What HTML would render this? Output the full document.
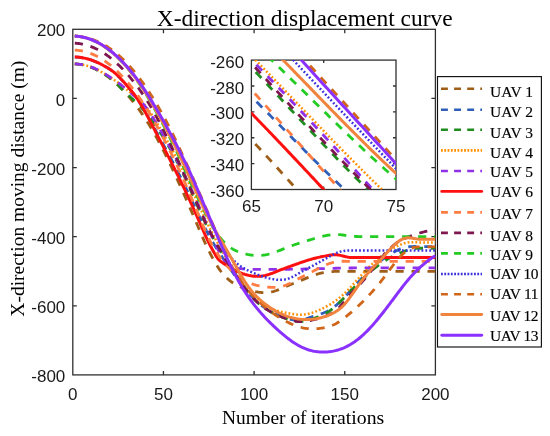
<!DOCTYPE html>
<html><head><meta charset="utf-8"><title>X-direction displacement curve</title>
<style>html,body{margin:0;padding:0;background:#fff}svg{display:block}text{fill:#000}.tk{font-family:"Liberation Sans",sans-serif;font-size:17px;fill:#1a1a1a}.lb{font-family:"Liberation Serif",serif;font-size:19.4px}.lg{font-family:"Liberation Serif",serif;font-size:15.5px;stroke:#000;stroke-width:.15px}.tt{font-family:"Liberation Serif",serif;font-size:23.3px}</style></head><body>
<svg width="550" height="436" viewBox="0 0 550 436">
<rect x="0" y="0" width="550" height="436" fill="#fff"/>
<defs>
<clipPath id="cm"><rect x="72.8" y="29.3" width="362.59999999999997" height="345.59999999999997"/></clipPath>
<clipPath id="ci"><rect x="251.4" y="60.1" width="144.6" height="129.4"/></clipPath>
</defs>
<rect x="72.8" y="29.3" width="362.59999999999997" height="345.59999999999997" fill="none" stroke="#303030" stroke-width="1.3"/>
<path d="M163.45 374.9 v-4.0 M163.45 29.3 v4.0" stroke="#303030" stroke-width="1.3"/>
<path d="M254.10 374.9 v-4.0 M254.10 29.3 v4.0" stroke="#303030" stroke-width="1.3"/>
<path d="M344.75 374.9 v-4.0 M344.75 29.3 v4.0" stroke="#303030" stroke-width="1.3"/>
<path d="M72.8 98.42 h4.0 M435.4 98.42 h-4.0" stroke="#303030" stroke-width="1.3"/>
<path d="M72.8 167.54 h4.0 M435.4 167.54 h-4.0" stroke="#303030" stroke-width="1.3"/>
<path d="M72.8 236.66 h4.0 M435.4 236.66 h-4.0" stroke="#303030" stroke-width="1.3"/>
<path d="M72.8 305.78 h4.0 M435.4 305.78 h-4.0" stroke="#303030" stroke-width="1.3"/>
<g clip-path="url(#cm)">
<path d="M74.81 63.89 L76.02 63.96 L77.23 64.05 L78.43 64.18 L79.64 64.33 L80.85 64.51 L82.05 64.73 L83.26 64.97 L84.47 65.25 L85.67 65.55 L86.88 65.89 L88.09 66.26 L89.29 66.65 L90.50 67.08 L91.71 67.54 L92.91 68.03 L94.12 68.55 L95.33 69.10 L96.53 69.68 L97.74 70.29 L98.95 70.93 L100.15 71.60 L101.36 72.30 L102.57 73.04 L103.77 73.80 L104.98 74.60 L106.19 75.42 L107.39 76.28 L108.60 77.16 L109.81 78.08 L111.01 79.03 L112.22 80.00 L113.43 81.01 L114.63 82.05 L115.84 83.12 L117.05 84.22 L118.25 85.35 L119.46 86.51 L120.67 87.70 L121.87 88.92 L123.08 90.17 L124.29 91.46 L125.49 92.77 L126.70 94.12 L127.91 95.49 L129.11 96.90 L130.32 98.34 L131.53 99.81 L132.73 101.30 L133.94 102.83 L135.15 104.39 L136.35 105.97 L137.56 107.59 L138.77 109.23 L139.97 110.90 L141.18 112.61 L142.39 114.34 L143.59 116.11 L144.80 117.92 L146.01 119.76 L147.21 121.64 L148.42 123.56 L149.63 125.52 L150.83 127.52 L152.04 129.56 L153.24 131.63 L154.45 133.75 L155.66 135.90 L156.86 138.09 L158.07 140.31 L159.28 142.57 L160.48 144.86 L161.69 147.18 L162.90 149.53 L164.10 151.91 L165.31 154.32 L166.52 156.76 L167.72 159.22 L168.93 161.70 L170.14 164.21 L171.34 166.74 L172.55 169.30 L173.76 171.87 L174.96 174.46 L176.17 177.07 L177.38 179.70 L178.58 182.34 L179.79 185.00 L181.00 187.67 L182.20 190.35 L183.41 193.05 L184.62 195.75 L185.82 198.46 L187.03 201.18 L188.24 203.91 L189.44 206.65 L190.65 209.40 L191.86 212.16 L193.06 214.94 L194.27 217.75 L195.48 220.58 L196.68 223.43 L197.89 226.31 L199.10 229.19 L200.30 232.05 L201.51 234.88 L202.72 237.65 L203.92 240.36 L205.13 243.00 L206.34 245.58 L207.54 248.09 L208.75 250.54 L209.96 252.94 L211.16 255.29 L212.37 257.57 L213.58 259.80 L214.78 261.94 L215.99 264.00 L217.20 265.97 L218.40 267.84 L219.61 269.60 L220.82 271.25 L222.02 272.80 L223.23 274.25 L224.44 275.60 L225.64 276.86 L226.85 278.03 L228.06 279.13 L229.26 280.15 L230.47 281.11 L231.68 282.00 L232.88 282.83 L234.09 283.60 L235.30 284.33 L236.50 285.01 L237.71 285.64 L238.92 286.24 L240.12 286.81 L241.33 287.34 L242.54 287.85 L243.74 288.33 L244.95 288.78 L246.16 289.21 L247.36 289.62 L248.57 289.99 L249.78 290.35 L250.98 290.68 L252.19 290.98 L253.40 291.26 L254.60 291.52 L255.81 291.75 L257.02 291.95 L258.22 292.13 L259.43 292.29 L260.64 292.41 L261.84 292.50 L263.05 292.56 L264.26 292.59 L265.46 292.58 L266.67 292.52 L267.88 292.43 L269.08 292.29 L270.29 292.11 L271.50 291.88 L272.70 291.60 L273.91 291.28 L275.12 290.92 L276.32 290.52 L277.53 290.08 L278.74 289.62 L279.94 289.13 L281.15 288.62 L282.36 288.10 L283.56 287.57 L284.77 287.04 L285.98 286.50 L287.18 285.97 L288.39 285.44 L289.60 284.93 L290.80 284.42 L292.01 283.93 L293.22 283.44 L294.42 282.96 L295.63 282.49 L296.84 282.01 L298.04 281.54 L299.25 281.07 L300.46 280.59 L301.66 280.11 L302.87 279.63 L304.08 279.14 L305.28 278.65 L306.49 278.15 L307.70 277.66 L308.90 277.17 L310.11 276.69 L311.32 276.21 L312.52 275.76 L313.73 275.31 L314.94 274.89 L316.14 274.49 L317.35 274.12 L318.56 273.77 L319.76 273.45 L320.97 273.16 L322.18 272.89 L323.38 272.65 L324.59 272.43 L325.80 272.24 L327.00 272.07 L328.21 271.92 L329.42 271.80 L330.62 271.69 L331.83 271.60 L333.04 271.53 L334.24 271.47 L335.45 271.43 L336.66 271.40 L337.86 271.38 L339.07 271.36 L340.28 271.36 L341.48 271.35 L342.69 271.35 L343.89 271.36 L345.10 271.36 L346.31 271.36 L347.51 271.36 L348.72 271.36 L349.93 271.36 L351.13 271.36 L352.34 271.36 L353.55 271.36 L354.75 271.36 L355.96 271.36 L357.17 271.36 L358.37 271.36 L359.58 271.36 L360.79 271.36 L361.99 271.36 L363.20 271.36 L364.41 271.36 L365.61 271.36 L366.82 271.36 L368.03 271.36 L369.23 271.36 L370.44 271.36 L371.65 271.36 L372.85 271.36 L374.06 271.36 L375.27 271.36 L376.47 271.36 L377.68 271.36 L378.89 271.36 L380.09 271.36 L381.30 271.36 L382.51 271.36 L383.71 271.36 L384.92 271.36 L386.13 271.36 L387.33 271.36 L388.54 271.36 L389.75 271.36 L390.95 271.36 L392.16 271.36 L393.37 271.36 L394.57 271.36 L395.78 271.36 L396.99 271.36 L398.19 271.36 L399.40 271.36 L400.61 271.36 L401.81 271.36 L403.02 271.36 L404.23 271.36 L405.43 271.36 L406.64 271.36 L407.85 271.36 L409.05 271.36 L410.26 271.36 L411.47 271.36 L412.67 271.36 L413.88 271.36 L415.09 271.36 L416.29 271.36 L417.50 271.36 L418.71 271.36 L419.91 271.36 L421.12 271.36 L422.33 271.36 L423.53 271.36 L424.74 271.36 L425.95 271.36 L427.15 271.36 L428.36 271.36 L429.57 271.36 L430.77 271.36 L431.98 271.36 L433.19 271.36 L434.39 271.36 L435.60 271.36" stroke="#9E5E18" stroke-width="2.8" fill="none" stroke-linejoin="round" stroke-dasharray="8.2 7.8"/>
<path d="M74.81 56.99 L76.02 57.05 L77.23 57.13 L78.43 57.24 L79.64 57.38 L80.85 57.54 L82.05 57.73 L83.26 57.94 L84.47 58.18 L85.67 58.45 L86.88 58.74 L88.09 59.06 L89.29 59.41 L90.50 59.79 L91.71 60.19 L92.91 60.63 L94.12 61.09 L95.33 61.58 L96.53 62.10 L97.74 62.65 L98.95 63.22 L100.15 63.82 L101.36 64.43 L102.57 65.07 L103.77 65.72 L104.98 66.39 L106.19 67.08 L107.39 67.79 L108.60 68.53 L109.81 69.31 L111.01 70.12 L112.22 70.98 L113.43 71.91 L114.63 72.89 L115.84 73.95 L117.05 75.08 L118.25 76.27 L119.46 77.52 L120.67 78.83 L121.87 80.17 L123.08 81.54 L124.29 82.92 L125.49 84.31 L126.70 85.71 L127.91 87.11 L129.11 88.53 L130.32 89.96 L131.53 91.42 L132.73 92.92 L133.94 94.46 L135.15 96.05 L136.35 97.70 L137.56 99.42 L138.77 101.20 L139.97 103.04 L141.18 104.94 L142.39 106.90 L143.59 108.91 L144.80 110.96 L146.01 113.05 L147.21 115.17 L148.42 117.32 L149.63 119.48 L150.83 121.67 L152.04 123.86 L153.24 126.06 L154.45 128.26 L155.66 130.46 L156.86 132.67 L158.07 134.87 L159.28 137.08 L160.48 139.28 L161.69 141.49 L162.90 143.71 L164.10 145.93 L165.31 148.15 L166.52 150.38 L167.72 152.62 L168.93 154.87 L170.14 157.13 L171.34 159.39 L172.55 161.67 L173.76 163.97 L174.96 166.27 L176.17 168.59 L177.38 170.93 L178.58 173.28 L179.79 175.65 L181.00 178.04 L182.20 180.44 L183.41 182.87 L184.62 185.32 L185.82 187.79 L187.03 190.28 L188.24 192.80 L189.44 195.34 L190.65 197.90 L191.86 200.48 L193.06 203.08 L194.27 205.68 L195.48 208.29 L196.68 210.89 L197.89 213.47 L199.10 216.03 L200.30 218.56 L201.51 221.05 L202.72 223.50 L203.92 225.90 L205.13 228.26 L206.34 230.56 L207.54 232.81 L208.75 235.02 L209.96 237.18 L211.16 239.31 L212.37 241.39 L213.58 243.43 L214.78 245.44 L215.99 247.41 L217.20 249.35 L218.40 251.27 L219.61 253.16 L220.82 255.02 L222.02 256.87 L223.23 258.69 L224.44 260.49 L225.64 262.28 L226.85 264.06 L228.06 265.82 L229.26 267.57 L230.47 269.31 L231.68 271.03 L232.88 272.74 L234.09 274.43 L235.30 276.10 L236.50 277.76 L237.71 279.39 L238.92 281.00 L240.12 282.59 L241.33 284.15 L242.54 285.68 L243.74 287.19 L244.95 288.67 L246.16 290.12 L247.36 291.54 L248.57 292.92 L249.78 294.27 L250.98 295.58 L252.19 296.86 L253.40 298.09 L254.60 299.29 L255.81 300.44 L257.02 301.56 L258.22 302.63 L259.43 303.67 L260.64 304.66 L261.84 305.61 L263.05 306.52 L264.26 307.39 L265.46 308.23 L266.67 309.02 L267.88 309.78 L269.08 310.50 L270.29 311.19 L271.50 311.85 L272.70 312.48 L273.91 313.07 L275.12 313.65 L276.32 314.19 L277.53 314.72 L278.74 315.22 L279.94 315.71 L281.15 316.18 L282.36 316.64 L283.56 317.08 L284.77 317.51 L285.98 317.93 L287.18 318.32 L288.39 318.69 L289.60 319.03 L290.80 319.34 L292.01 319.61 L293.22 319.84 L294.42 320.02 L295.63 320.14 L296.84 320.21 L298.04 320.21 L299.25 320.15 L300.46 320.03 L301.66 319.85 L302.87 319.61 L304.08 319.32 L305.28 319.00 L306.49 318.64 L307.70 318.25 L308.90 317.85 L310.11 317.44 L311.32 317.03 L312.52 316.62 L313.73 316.23 L314.94 315.84 L316.14 315.46 L317.35 315.08 L318.56 314.70 L319.76 314.31 L320.97 313.91 L322.18 313.49 L323.38 313.05 L324.59 312.56 L325.80 312.04 L327.00 311.47 L328.21 310.85 L329.42 310.17 L330.62 309.43 L331.83 308.63 L333.04 307.77 L334.24 306.86 L335.45 305.88 L336.66 304.86 L337.86 303.79 L339.07 302.67 L340.28 301.52 L341.48 300.33 L342.69 299.10 L343.89 297.85 L345.10 296.58 L346.31 295.28 L347.51 293.97 L348.72 292.64 L349.93 291.30 L351.13 289.96 L352.34 288.62 L353.55 287.28 L354.75 285.94 L355.96 284.60 L357.17 283.27 L358.37 281.95 L359.58 280.64 L360.79 279.34 L361.99 278.06 L363.20 276.78 L364.41 275.53 L365.61 274.29 L366.82 273.07 L368.03 271.88 L369.23 270.70 L370.44 269.55 L371.65 268.42 L372.85 267.32 L374.06 266.25 L375.27 265.20 L376.47 264.17 L377.68 263.18 L378.89 262.20 L380.09 261.26 L381.30 260.33 L382.51 259.43 L383.71 258.56 L384.92 257.70 L386.13 256.87 L387.33 256.06 L388.54 255.27 L389.75 254.50 L390.95 253.76 L392.16 253.03 L393.37 252.34 L394.57 251.67 L395.78 251.03 L396.99 250.43 L398.19 249.86 L399.40 249.33 L400.61 248.85 L401.81 248.41 L403.02 248.01 L404.23 247.67 L405.43 247.37 L406.64 247.11 L407.85 246.91 L409.05 246.75 L410.26 246.64 L411.47 246.57 L412.67 246.53 L413.88 246.51 L415.09 246.51 L416.29 246.52 L417.50 246.53 L418.71 246.54 L419.91 246.54 L421.12 246.54 L422.33 246.54 L423.53 246.54 L424.74 246.53 L425.95 246.53 L427.15 246.53 L428.36 246.53 L429.57 246.53 L430.77 246.53 L431.98 246.53 L433.19 246.54 L434.39 246.54 L435.60 246.53" stroke="#2F5FBA" stroke-width="2.8" fill="none" stroke-linejoin="round" stroke-dasharray="8.2 7.8"/>
<path d="M74.81 63.89 L76.02 63.96 L77.23 64.06 L78.43 64.18 L79.64 64.33 L80.85 64.52 L82.05 64.73 L83.26 64.97 L84.47 65.24 L85.67 65.55 L86.88 65.88 L88.09 66.24 L89.29 66.63 L90.50 67.06 L91.71 67.51 L92.91 68.00 L94.12 68.52 L95.33 69.06 L96.53 69.64 L97.74 70.25 L98.95 70.89 L100.15 71.56 L101.36 72.25 L102.57 72.97 L103.77 73.72 L104.98 74.49 L106.19 75.29 L107.39 76.12 L108.60 76.97 L109.81 77.86 L111.01 78.79 L112.22 79.76 L113.43 80.77 L114.63 81.83 L115.84 82.93 L117.05 84.08 L118.25 85.27 L119.46 86.49 L120.67 87.73 L121.87 88.97 L123.08 90.21 L124.29 91.42 L125.49 92.60 L126.70 93.75 L127.91 94.86 L129.11 95.93 L130.32 96.99 L131.53 98.04 L132.73 99.11 L133.94 100.20 L135.15 101.31 L136.35 102.46 L137.56 103.65 L138.77 104.87 L139.97 106.12 L141.18 107.41 L142.39 108.74 L143.59 110.10 L144.80 111.50 L146.01 112.93 L147.21 114.40 L148.42 115.90 L149.63 117.44 L150.83 119.01 L152.04 120.62 L153.24 122.26 L154.45 123.94 L155.66 125.65 L156.86 127.40 L158.07 129.18 L159.28 131.00 L160.48 132.85 L161.69 134.73 L162.90 136.65 L164.10 138.61 L165.31 140.59 L166.52 142.62 L167.72 144.67 L168.93 146.77 L170.14 148.89 L171.34 151.05 L172.55 153.24 L173.76 155.47 L174.96 157.73 L176.17 160.02 L177.38 162.35 L178.58 164.71 L179.79 167.10 L181.00 169.53 L182.20 171.99 L183.41 174.49 L184.62 177.02 L185.82 179.58 L187.03 182.17 L188.24 184.80 L189.44 187.45 L190.65 190.14 L191.86 192.85 L193.06 195.59 L194.27 198.34 L195.48 201.09 L196.68 203.85 L197.89 206.60 L199.10 209.33 L200.30 212.04 L201.51 214.72 L202.72 217.35 L203.92 219.94 L205.13 222.48 L206.34 224.96 L207.54 227.39 L208.75 229.75 L209.96 232.06 L211.16 234.32 L212.37 236.53 L213.58 238.70 L214.78 240.82 L215.99 242.90 L217.20 244.96 L218.40 246.98 L219.61 248.97 L220.82 250.95 L222.02 252.90 L223.23 254.84 L224.44 256.77 L225.64 258.69 L226.85 260.61 L228.06 262.52 L229.26 264.42 L230.47 266.32 L231.68 268.22 L232.88 270.11 L234.09 271.98 L235.30 273.84 L236.50 275.68 L237.71 277.51 L238.92 279.31 L240.12 281.09 L241.33 282.84 L242.54 284.56 L243.74 286.25 L244.95 287.90 L246.16 289.52 L247.36 291.09 L248.57 292.62 L249.78 294.11 L250.98 295.55 L252.19 296.93 L253.40 298.26 L254.60 299.54 L255.81 300.76 L257.02 301.92 L258.22 303.03 L259.43 304.08 L260.64 305.08 L261.84 306.04 L263.05 306.94 L264.26 307.80 L265.46 308.62 L266.67 309.40 L267.88 310.14 L269.08 310.85 L270.29 311.53 L271.50 312.18 L272.70 312.81 L273.91 313.41 L275.12 313.99 L276.32 314.55 L277.53 315.09 L278.74 315.62 L279.94 316.13 L281.15 316.63 L282.36 317.12 L283.56 317.60 L284.77 318.07 L285.98 318.53 L287.18 318.97 L288.39 319.39 L289.60 319.79 L290.80 320.17 L292.01 320.50 L293.22 320.80 L294.42 321.05 L295.63 321.26 L296.84 321.41 L298.04 321.50 L299.25 321.54 L300.46 321.52 L301.66 321.43 L302.87 321.30 L304.08 321.11 L305.28 320.87 L306.49 320.60 L307.70 320.30 L308.90 319.96 L310.11 319.61 L311.32 319.24 L312.52 318.85 L313.73 318.45 L314.94 318.04 L316.14 317.62 L317.35 317.18 L318.56 316.72 L319.76 316.24 L320.97 315.73 L322.18 315.19 L323.38 314.61 L324.59 314.00 L325.80 313.34 L327.00 312.64 L328.21 311.89 L329.42 311.09 L330.62 310.23 L331.83 309.32 L333.04 308.37 L334.24 307.37 L335.45 306.32 L336.66 305.23 L337.86 304.10 L339.07 302.95 L340.28 301.76 L341.48 300.55 L342.69 299.32 L343.89 298.07 L345.10 296.81 L346.31 295.54 L347.51 294.26 L348.72 292.98 L349.93 291.71 L351.13 290.44 L352.34 289.17 L353.55 287.92 L354.75 286.68 L355.96 285.46 L357.17 284.24 L358.37 283.04 L359.58 281.86 L360.79 280.69 L361.99 279.53 L363.20 278.39 L364.41 277.26 L365.61 276.15 L366.82 275.05 L368.03 273.96 L369.23 272.89 L370.44 271.83 L371.65 270.79 L372.85 269.76 L374.06 268.75 L375.27 267.76 L376.47 266.79 L377.68 265.84 L378.89 264.92 L380.09 264.02 L381.30 263.14 L382.51 262.30 L383.71 261.48 L384.92 260.70 L386.13 259.95 L387.33 259.23 L388.54 258.54 L389.75 257.88 L390.95 257.24 L392.16 256.63 L393.37 256.04 L394.57 255.47 L395.78 254.91 L396.99 254.37 L398.19 253.84 L399.40 253.32 L400.61 252.81 L401.81 252.31 L403.02 251.82 L404.23 251.35 L405.43 250.90 L406.64 250.48 L407.85 250.08 L409.05 249.71 L410.26 249.38 L411.47 249.09 L412.67 248.85 L413.88 248.65 L415.09 248.49 L416.29 248.38 L417.50 248.31 L418.71 248.27 L419.91 248.25 L421.12 248.24 L422.33 248.25 L423.53 248.25 L424.74 248.26 L425.95 248.26 L427.15 248.26 L428.36 248.26 L429.57 248.26 L430.77 248.26 L431.98 248.26 L433.19 248.26 L434.39 248.26 L435.60 248.26" stroke="#1E8C1E" stroke-width="2.8" fill="none" stroke-linejoin="round" stroke-dasharray="8.2 7.8"/>
<path d="M74.81 63.89 L76.02 63.95 L77.23 64.04 L78.43 64.15 L79.64 64.29 L80.85 64.46 L82.05 64.65 L83.26 64.87 L84.47 65.12 L85.67 65.39 L86.88 65.69 L88.09 66.02 L89.29 66.38 L90.50 66.77 L91.71 67.20 L92.91 67.66 L94.12 68.16 L95.33 68.69 L96.53 69.26 L97.74 69.87 L98.95 70.50 L100.15 71.16 L101.36 71.84 L102.57 72.55 L103.77 73.27 L104.98 74.01 L106.19 74.76 L107.39 75.53 L108.60 76.30 L109.81 77.09 L111.01 77.88 L112.22 78.69 L113.43 79.50 L114.63 80.31 L115.84 81.14 L117.05 81.98 L118.25 82.84 L119.46 83.71 L120.67 84.60 L121.87 85.52 L123.08 86.47 L124.29 87.43 L125.49 88.42 L126.70 89.41 L127.91 90.42 L129.11 91.41 L130.32 92.41 L131.53 93.39 L132.73 94.35 L133.94 95.30 L135.15 96.25 L136.35 97.20 L137.56 98.17 L138.77 99.17 L139.97 100.22 L141.18 101.33 L142.39 102.52 L143.59 103.80 L144.80 105.18 L146.01 106.65 L147.21 108.22 L148.42 109.88 L149.63 111.61 L150.83 113.40 L152.04 115.25 L153.24 117.13 L154.45 119.05 L155.66 121.00 L156.86 122.97 L158.07 124.95 L159.28 126.96 L160.48 128.99 L161.69 131.04 L162.90 133.11 L164.10 135.20 L165.31 137.32 L166.52 139.45 L167.72 141.61 L168.93 143.78 L170.14 145.98 L171.34 148.21 L172.55 150.45 L173.76 152.72 L174.96 155.01 L176.17 157.33 L177.38 159.67 L178.58 162.03 L179.79 164.42 L181.00 166.83 L182.20 169.27 L183.41 171.73 L184.62 174.22 L185.82 176.73 L187.03 179.27 L188.24 181.83 L189.44 184.42 L190.65 187.04 L191.86 189.67 L193.06 192.33 L194.27 194.99 L195.48 197.67 L196.68 200.35 L197.89 203.03 L199.10 205.70 L200.30 208.36 L201.51 211.00 L202.72 213.61 L203.92 216.20 L205.13 218.76 L206.34 221.28 L207.54 223.76 L208.75 226.20 L209.96 228.60 L211.16 230.96 L212.37 233.28 L213.58 235.56 L214.78 237.81 L215.99 240.03 L217.20 242.21 L218.40 244.37 L219.61 246.50 L220.82 248.60 L222.02 250.68 L223.23 252.75 L224.44 254.79 L225.64 256.82 L226.85 258.84 L228.06 260.83 L229.26 262.82 L230.47 264.79 L231.68 266.74 L232.88 268.67 L234.09 270.57 L235.30 272.46 L236.50 274.32 L237.71 276.15 L238.92 277.94 L240.12 279.71 L241.33 281.44 L242.54 283.13 L243.74 284.78 L244.95 286.39 L246.16 287.95 L247.36 289.47 L248.57 290.94 L249.78 292.37 L250.98 293.74 L252.19 295.06 L253.40 296.33 L254.60 297.55 L255.81 298.71 L257.02 299.82 L258.22 300.88 L259.43 301.87 L260.64 302.81 L261.84 303.69 L263.05 304.51 L264.26 305.28 L265.46 305.99 L266.67 306.65 L267.88 307.26 L269.08 307.83 L270.29 308.35 L271.50 308.83 L272.70 309.28 L273.91 309.70 L275.12 310.08 L276.32 310.44 L277.53 310.78 L278.74 311.09 L279.94 311.39 L281.15 311.67 L282.36 311.94 L283.56 312.21 L284.77 312.47 L285.98 312.72 L287.18 312.97 L288.39 313.21 L289.60 313.45 L290.80 313.68 L292.01 313.89 L293.22 314.09 L294.42 314.27 L295.63 314.42 L296.84 314.54 L298.04 314.63 L299.25 314.69 L300.46 314.71 L301.66 314.69 L302.87 314.62 L304.08 314.52 L305.28 314.37 L306.49 314.18 L307.70 313.96 L308.90 313.69 L310.11 313.39 L311.32 313.05 L312.52 312.68 L313.73 312.28 L314.94 311.84 L316.14 311.38 L317.35 310.90 L318.56 310.38 L319.76 309.85 L320.97 309.29 L322.18 308.71 L323.38 308.11 L324.59 307.49 L325.80 306.85 L327.00 306.19 L328.21 305.51 L329.42 304.80 L330.62 304.07 L331.83 303.31 L333.04 302.52 L334.24 301.71 L335.45 300.86 L336.66 299.99 L337.86 299.08 L339.07 298.13 L340.28 297.15 L341.48 296.13 L342.69 295.07 L343.89 293.97 L345.10 292.84 L346.31 291.66 L347.51 290.45 L348.72 289.21 L349.93 287.93 L351.13 286.64 L352.34 285.32 L353.55 283.98 L354.75 282.63 L355.96 281.28 L357.17 279.91 L358.37 278.55 L359.58 277.20 L360.79 275.85 L361.99 274.52 L363.20 273.20 L364.41 271.90 L365.61 270.62 L366.82 269.36 L368.03 268.13 L369.23 266.92 L370.44 265.73 L371.65 264.57 L372.85 263.44 L374.06 262.32 L375.27 261.24 L376.47 260.18 L377.68 259.14 L378.89 258.13 L380.09 257.15 L381.30 256.20 L382.51 255.27 L383.71 254.37 L384.92 253.49 L386.13 252.65 L387.33 251.83 L388.54 251.03 L389.75 250.27 L390.95 249.53 L392.16 248.82 L393.37 248.13 L394.57 247.47 L395.78 246.84 L396.99 246.24 L398.19 245.66 L399.40 245.11 L400.61 244.59 L401.81 244.12 L403.02 243.68 L404.23 243.29 L405.43 242.97 L406.64 242.70 L407.85 242.49 L409.05 242.35 L410.26 242.26 L411.47 242.22 L412.67 242.22 L413.88 242.24 L415.09 242.28 L416.29 242.32 L417.50 242.36 L418.71 242.38 L419.91 242.40 L421.12 242.41 L422.33 242.41 L423.53 242.40 L424.74 242.40 L425.95 242.40 L427.15 242.39 L428.36 242.39 L429.57 242.40 L430.77 242.40 L431.98 242.40 L433.19 242.40 L434.39 242.40 L435.60 242.40" stroke="#FF9000" stroke-width="2.5" fill="none" stroke-linejoin="round" stroke-dasharray="1.8 2.1"/>
<path d="M74.81 63.88 L76.02 63.95 L77.23 64.04 L78.43 64.15 L79.64 64.29 L80.85 64.46 L82.05 64.65 L83.26 64.87 L84.47 65.12 L85.67 65.39 L86.88 65.69 L88.09 66.03 L89.29 66.39 L90.50 66.78 L91.71 67.21 L92.91 67.66 L94.12 68.16 L95.33 68.68 L96.53 69.24 L97.74 69.84 L98.95 70.46 L100.15 71.11 L101.36 71.78 L102.57 72.48 L103.77 73.19 L104.98 73.93 L106.19 74.68 L107.39 75.44 L108.60 76.22 L109.81 77.01 L111.01 77.80 L112.22 78.61 L113.43 79.42 L114.63 80.25 L115.84 81.08 L117.05 81.93 L118.25 82.79 L119.46 83.68 L120.67 84.59 L121.87 85.54 L123.08 86.51 L124.29 87.51 L125.49 88.53 L126.70 89.56 L127.91 90.60 L129.11 91.64 L130.32 92.67 L131.53 93.68 L132.73 94.68 L133.94 95.66 L135.15 96.64 L136.35 97.61 L137.56 98.60 L138.77 99.63 L139.97 100.70 L141.18 101.84 L142.39 103.06 L143.59 104.38 L144.80 105.80 L146.01 107.32 L147.21 108.95 L148.42 110.66 L149.63 112.45 L150.83 114.31 L152.04 116.22 L153.24 118.16 L154.45 120.14 L155.66 122.13 L156.86 124.15 L158.07 126.18 L159.28 128.23 L160.48 130.29 L161.69 132.37 L162.90 134.46 L164.10 136.58 L165.31 138.70 L166.52 140.85 L167.72 143.01 L168.93 145.20 L170.14 147.40 L171.34 149.62 L172.55 151.86 L173.76 154.12 L174.96 156.40 L176.17 158.70 L177.38 161.02 L178.58 163.37 L179.79 165.73 L181.00 168.12 L182.20 170.53 L183.41 172.97 L184.62 175.42 L185.82 177.91 L187.03 180.41 L188.24 182.94 L189.44 185.50 L190.65 188.08 L191.86 190.69 L193.06 193.32 L194.27 195.98 L195.48 198.66 L196.68 201.36 L197.89 204.09 L199.10 206.84 L200.30 209.61 L201.51 212.40 L202.72 215.21 L203.92 218.04 L205.13 220.88 L206.34 223.73 L207.54 226.59 L208.75 229.44 L209.96 232.27 L211.16 235.06 L212.37 237.81 L213.58 240.50 L214.78 243.12 L215.99 245.64 L217.20 248.06 L218.40 250.36 L219.61 252.54 L220.82 254.57 L222.02 256.45 L223.23 258.17 L224.44 259.73 L225.64 261.12 L226.85 262.35 L228.06 263.42 L229.26 264.35 L230.47 265.16 L231.68 265.85 L232.88 266.44 L234.09 266.95 L235.30 267.38 L236.50 267.74 L237.71 268.05 L238.92 268.31 L240.12 268.53 L241.33 268.70 L242.54 268.85 L243.74 268.96 L244.95 269.05 L246.16 269.12 L247.36 269.18 L248.57 269.22 L249.78 269.24 L250.98 269.26 L252.19 269.28 L253.40 269.28 L254.60 269.29 L255.81 269.29 L257.02 269.29 L258.22 269.29 L259.43 269.29 L260.64 269.29 L261.84 269.29 L263.05 269.29 L264.26 269.29 L265.46 269.29 L266.67 269.29 L267.88 269.29 L269.08 269.29 L270.29 269.29 L271.50 269.29 L272.70 269.29 L273.91 269.29 L275.12 269.29 L276.32 269.29 L277.53 269.29 L278.74 269.29 L279.94 269.29 L281.15 269.29 L282.36 269.29 L283.56 269.28 L284.77 269.28 L285.98 269.27 L287.18 269.26 L288.39 269.25 L289.60 269.24 L290.80 269.22 L292.01 269.21 L293.22 269.20 L294.42 269.18 L295.63 269.16 L296.84 269.14 L298.04 269.12 L299.25 269.10 L300.46 269.08 L301.66 269.06 L302.87 269.03 L304.08 269.01 L305.28 268.98 L306.49 268.96 L307.70 268.93 L308.90 268.90 L310.11 268.88 L311.32 268.85 L312.52 268.82 L313.73 268.79 L314.94 268.76 L316.14 268.73 L317.35 268.70 L318.56 268.67 L319.76 268.65 L320.97 268.62 L322.18 268.59 L323.38 268.56 L324.59 268.53 L325.80 268.50 L327.00 268.47 L328.21 268.44 L329.42 268.41 L330.62 268.38 L331.83 268.35 L333.04 268.32 L334.24 268.30 L335.45 268.27 L336.66 268.25 L337.86 268.22 L339.07 268.20 L340.28 268.17 L341.48 268.15 L342.69 268.13 L343.89 268.10 L345.10 268.08 L346.31 268.07 L347.51 268.05 L348.72 268.03 L349.93 268.01 L351.13 268.00 L352.34 267.98 L353.55 267.97 L354.75 267.96 L355.96 267.95 L357.17 267.94 L358.37 267.93 L359.58 267.93 L360.79 267.92 L361.99 267.92 L363.20 267.91 L364.41 267.91 L365.61 267.91 L366.82 267.91 L368.03 267.91 L369.23 267.91 L370.44 267.91 L371.65 267.91 L372.85 267.91 L374.06 267.91 L375.27 267.91 L376.47 267.91 L377.68 267.91 L378.89 267.91 L380.09 267.91 L381.30 267.91 L382.51 267.91 L383.71 267.91 L384.92 267.91 L386.13 267.91 L387.33 267.91 L388.54 267.91 L389.75 267.91 L390.95 267.91 L392.16 267.91 L393.37 267.91 L394.57 267.91 L395.78 267.91 L396.99 267.91 L398.19 267.91 L399.40 267.91 L400.61 267.91 L401.81 267.91 L403.02 267.91 L404.23 267.91 L405.43 267.91 L406.64 267.91 L407.85 267.91 L409.05 267.91 L410.26 267.91 L411.47 267.91 L412.67 267.91 L413.88 267.91 L415.09 267.91 L416.29 267.91 L417.50 267.91 L418.71 267.91 L419.91 267.91 L421.12 267.91 L422.33 267.91 L423.53 267.91 L424.74 267.91 L425.95 267.91 L427.15 267.91 L428.36 267.91 L429.57 267.91 L430.77 267.91 L431.98 267.91 L433.19 267.91 L434.39 267.91 L435.60 267.91" stroke="#9030E8" stroke-width="2.8" fill="none" stroke-linejoin="round" stroke-dasharray="8.2 7.8"/>
<path d="M74.81 56.94 L76.02 57.00 L77.23 57.08 L78.43 57.19 L79.64 57.33 L80.85 57.49 L82.05 57.68 L83.26 57.90 L84.47 58.14 L85.67 58.40 L86.88 58.70 L88.09 59.02 L89.29 59.36 L90.50 59.74 L91.71 60.14 L92.91 60.58 L94.12 61.04 L95.33 61.53 L96.53 62.05 L97.74 62.60 L98.95 63.17 L100.15 63.77 L101.36 64.39 L102.57 65.03 L103.77 65.69 L104.98 66.36 L106.19 67.05 L107.39 67.76 L108.60 68.50 L109.81 69.27 L111.01 70.07 L112.22 70.92 L113.43 71.83 L114.63 72.79 L115.84 73.82 L117.05 74.92 L118.25 76.09 L119.46 77.32 L120.67 78.59 L121.87 79.91 L123.08 81.25 L124.29 82.60 L125.49 83.96 L126.70 85.33 L127.91 86.71 L129.11 88.10 L130.32 89.52 L131.53 90.98 L132.73 92.48 L133.94 94.04 L135.15 95.67 L136.35 97.37 L137.56 99.14 L138.77 101.00 L139.97 102.93 L141.18 104.93 L142.39 106.99 L143.59 109.11 L144.80 111.27 L146.01 113.48 L147.21 115.73 L148.42 118.01 L149.63 120.30 L150.83 122.62 L152.04 124.94 L153.24 127.27 L154.45 129.61 L155.66 131.94 L156.86 134.26 L158.07 136.59 L159.28 138.92 L160.48 141.26 L161.69 143.59 L162.90 145.93 L164.10 148.27 L165.31 150.61 L166.52 152.96 L167.72 155.32 L168.93 157.68 L170.14 160.05 L171.34 162.43 L172.55 164.82 L173.76 167.22 L174.96 169.63 L176.17 172.06 L177.38 174.49 L178.58 176.94 L179.79 179.40 L181.00 181.88 L182.20 184.37 L183.41 186.88 L184.62 189.41 L185.82 191.96 L187.03 194.52 L188.24 197.11 L189.44 199.71 L190.65 202.34 L191.86 204.98 L193.06 207.65 L194.27 210.34 L195.48 213.04 L196.68 215.76 L197.89 218.49 L199.10 221.24 L200.30 223.99 L201.51 226.75 L202.72 229.49 L203.92 232.21 L205.13 234.89 L206.34 237.52 L207.54 240.08 L208.75 242.57 L209.96 244.97 L211.16 247.29 L212.37 249.54 L213.58 251.73 L214.78 253.86 L215.99 255.92 L217.20 257.80 L218.40 259.34 L219.61 260.51 L220.82 261.45 L222.02 262.31 L223.23 263.14 L224.44 263.97 L225.64 264.78 L226.85 265.57 L228.06 266.35 L229.26 267.10 L230.47 267.83 L231.68 268.53 L232.88 269.20 L234.09 269.85 L235.30 270.47 L236.50 271.06 L237.71 271.63 L238.92 272.16 L240.12 272.67 L241.33 273.14 L242.54 273.59 L243.74 274.00 L244.95 274.39 L246.16 274.74 L247.36 275.06 L248.57 275.35 L249.78 275.60 L250.98 275.82 L252.19 276.00 L253.40 276.14 L254.60 276.25 L255.81 276.31 L257.02 276.34 L258.22 276.32 L259.43 276.26 L260.64 276.16 L261.84 276.01 L263.05 275.83 L264.26 275.61 L265.46 275.35 L266.67 275.05 L267.88 274.72 L269.08 274.35 L270.29 273.95 L271.50 273.53 L272.70 273.08 L273.91 272.61 L275.12 272.13 L276.32 271.64 L277.53 271.15 L278.74 270.66 L279.94 270.18 L281.15 269.71 L282.36 269.24 L283.56 268.78 L284.77 268.32 L285.98 267.87 L287.18 267.43 L288.39 266.99 L289.60 266.55 L290.80 266.12 L292.01 265.69 L293.22 265.26 L294.42 264.83 L295.63 264.40 L296.84 263.97 L298.04 263.55 L299.25 263.12 L300.46 262.70 L301.66 262.28 L302.87 261.87 L304.08 261.47 L305.28 261.07 L306.49 260.68 L307.70 260.30 L308.90 259.93 L310.11 259.57 L311.32 259.22 L312.52 258.88 L313.73 258.55 L314.94 258.24 L316.14 257.94 L317.35 257.65 L318.56 257.36 L319.76 257.10 L320.97 256.84 L322.18 256.59 L323.38 256.35 L324.59 256.12 L325.80 255.89 L327.00 255.68 L328.21 255.47 L329.42 255.26 L330.62 255.08 L331.83 254.91 L333.04 254.79 L334.24 254.72 L335.45 254.72 L336.66 254.79 L337.86 254.93 L339.07 255.13 L340.28 255.38 L341.48 255.66 L342.69 255.97 L343.89 256.27 L345.10 256.57 L346.31 256.85 L347.51 257.09 L348.72 257.28 L349.93 257.42 L351.13 257.51 L352.34 257.55 L353.55 257.57 L354.75 257.57 L355.96 257.57 L357.17 257.56 L358.37 257.56 L359.58 257.56 L360.79 257.57 L361.99 257.57 L363.20 257.57 L364.41 257.57 L365.61 257.57 L366.82 257.57 L368.03 257.57 L369.23 257.57 L370.44 257.57 L371.65 257.57 L372.85 257.57 L374.06 257.57 L375.27 257.57 L376.47 257.57 L377.68 257.57 L378.89 257.57 L380.09 257.57 L381.30 257.57 L382.51 257.57 L383.71 257.57 L384.92 257.57 L386.13 257.57 L387.33 257.57 L388.54 257.57 L389.75 257.57 L390.95 257.57 L392.16 257.57 L393.37 257.57 L394.57 257.57 L395.78 257.57 L396.99 257.57 L398.19 257.57 L399.40 257.57 L400.61 257.57 L401.81 257.57 L403.02 257.57 L404.23 257.57 L405.43 257.57 L406.64 257.57 L407.85 257.57 L409.05 257.57 L410.26 257.57 L411.47 257.57 L412.67 257.57 L413.88 257.57 L415.09 257.57 L416.29 257.57 L417.50 257.57 L418.71 257.57 L419.91 257.57 L421.12 257.57 L422.33 257.57 L423.53 257.57 L424.74 257.57 L425.95 257.57 L427.15 257.57 L428.36 257.57 L429.57 257.57 L430.77 257.57 L431.98 257.57 L433.19 257.57 L434.39 257.57 L435.60 257.57" stroke="#FF1010" stroke-width="3.0" fill="none" stroke-linejoin="round"/>
<path d="M74.81 50.10 L76.02 50.17 L77.23 50.27 L78.43 50.40 L79.64 50.55 L80.85 50.74 L82.05 50.96 L83.26 51.21 L84.47 51.49 L85.67 51.81 L86.88 52.15 L88.09 52.53 L89.29 52.94 L90.50 53.38 L91.71 53.85 L92.91 54.35 L94.12 54.89 L95.33 55.46 L96.53 56.05 L97.74 56.69 L98.95 57.35 L100.15 58.04 L101.36 58.77 L102.57 59.53 L103.77 60.32 L104.98 61.13 L106.19 61.98 L107.39 62.87 L108.60 63.78 L109.81 64.72 L111.01 65.69 L112.22 66.70 L113.43 67.73 L114.63 68.80 L115.84 69.90 L117.05 71.03 L118.25 72.19 L119.46 73.39 L120.67 74.62 L121.87 75.88 L123.08 77.17 L124.29 78.49 L125.49 79.85 L126.70 81.23 L127.91 82.65 L129.11 84.10 L130.32 85.58 L131.53 87.09 L132.73 88.63 L133.94 90.21 L135.15 91.81 L136.35 93.45 L137.56 95.11 L138.77 96.81 L139.97 98.54 L141.18 100.30 L142.39 102.09 L143.59 103.91 L144.80 105.76 L146.01 107.65 L147.21 109.57 L148.42 111.53 L149.63 113.52 L150.83 115.53 L152.04 117.58 L153.24 119.66 L154.45 121.76 L155.66 123.90 L156.86 126.05 L158.07 128.23 L159.28 130.43 L160.48 132.66 L161.69 134.90 L162.90 137.17 L164.10 139.47 L165.31 141.78 L166.52 144.12 L167.72 146.49 L168.93 148.87 L170.14 151.28 L171.34 153.72 L172.55 156.17 L173.76 158.66 L174.96 161.16 L176.17 163.69 L177.38 166.25 L178.58 168.83 L179.79 171.44 L181.00 174.07 L182.20 176.72 L183.41 179.41 L184.62 182.11 L185.82 184.85 L187.03 187.61 L188.24 190.39 L189.44 193.20 L190.65 196.04 L191.86 198.89 L193.06 201.77 L194.27 204.66 L195.48 207.57 L196.68 210.48 L197.89 213.39 L199.10 216.30 L200.30 219.20 L201.51 222.08 L202.72 224.94 L203.92 227.75 L205.13 230.51 L206.34 233.21 L207.54 235.82 L208.75 238.35 L209.96 240.78 L211.16 243.11 L212.37 245.35 L213.58 247.48 L214.78 249.52 L215.99 251.47 L217.20 253.34 L218.40 255.13 L219.61 256.84 L220.82 258.48 L222.02 260.05 L223.23 261.56 L224.44 263.01 L225.64 264.40 L226.85 265.75 L228.06 267.04 L229.26 268.29 L230.47 269.49 L231.68 270.65 L232.88 271.76 L234.09 272.83 L235.30 273.86 L236.50 274.84 L237.71 275.78 L238.92 276.67 L240.12 277.53 L241.33 278.34 L242.54 279.11 L243.74 279.85 L244.95 280.54 L246.16 281.19 L247.36 281.81 L248.57 282.38 L249.78 282.92 L250.98 283.42 L252.19 283.88 L253.40 284.31 L254.60 284.70 L255.81 285.06 L257.02 285.38 L258.22 285.68 L259.43 285.95 L260.64 286.19 L261.84 286.40 L263.05 286.58 L264.26 286.75 L265.46 286.89 L266.67 287.01 L267.88 287.11 L269.08 287.19 L270.29 287.25 L271.50 287.29 L272.70 287.30 L273.91 287.28 L275.12 287.24 L276.32 287.17 L277.53 287.06 L278.74 286.91 L279.94 286.72 L281.15 286.48 L282.36 286.20 L283.56 285.87 L284.77 285.49 L285.98 285.05 L287.18 284.58 L288.39 284.05 L289.60 283.49 L290.80 282.90 L292.01 282.28 L293.22 281.63 L294.42 280.98 L295.63 280.31 L296.84 279.64 L298.04 278.98 L299.25 278.32 L300.46 277.68 L301.66 277.04 L302.87 276.42 L304.08 275.81 L305.28 275.20 L306.49 274.60 L307.70 274.01 L308.90 273.41 L310.11 272.81 L311.32 272.20 L312.52 271.59 L313.73 270.97 L314.94 270.34 L316.14 269.71 L317.35 269.08 L318.56 268.45 L319.76 267.82 L320.97 267.21 L322.18 266.61 L323.38 266.02 L324.59 265.46 L325.80 264.93 L327.00 264.42 L328.21 263.95 L329.42 263.51 L330.62 263.11 L331.83 262.74 L333.04 262.42 L334.24 262.13 L335.45 261.88 L336.66 261.68 L337.86 261.51 L339.07 261.39 L340.28 261.30 L341.48 261.25 L342.69 261.23 L343.89 261.23 L345.10 261.25 L346.31 261.28 L347.51 261.31 L348.72 261.33 L349.93 261.35 L351.13 261.36 L352.34 261.37 L353.55 261.36 L354.75 261.36 L355.96 261.36 L357.17 261.36 L358.37 261.36 L359.58 261.36 L360.79 261.36 L361.99 261.36 L363.20 261.36 L364.41 261.36 L365.61 261.36 L366.82 261.36 L368.03 261.36 L369.23 261.36 L370.44 261.36 L371.65 261.36 L372.85 261.36 L374.06 261.36 L375.27 261.36 L376.47 261.36 L377.68 261.36 L378.89 261.36 L380.09 261.36 L381.30 261.36 L382.51 261.36 L383.71 261.36 L384.92 261.36 L386.13 261.36 L387.33 261.36 L388.54 261.36 L389.75 261.36 L390.95 261.36 L392.16 261.36 L393.37 261.36 L394.57 261.36 L395.78 261.36 L396.99 261.36 L398.19 261.36 L399.40 261.36 L400.61 261.36 L401.81 261.36 L403.02 261.36 L404.23 261.36 L405.43 261.36 L406.64 261.36 L407.85 261.36 L409.05 261.36 L410.26 261.36 L411.47 261.36 L412.67 261.36 L413.88 261.36 L415.09 261.36 L416.29 261.36 L417.50 261.36 L418.71 261.36 L419.91 261.36 L421.12 261.36 L422.33 261.36 L423.53 261.36 L424.74 261.36 L425.95 261.36 L427.15 261.36 L428.36 261.36 L429.57 261.36 L430.77 261.36 L431.98 261.36 L433.19 261.36 L434.39 261.36 L435.60 261.36" stroke="#FF7D42" stroke-width="2.8" fill="none" stroke-linejoin="round" stroke-dasharray="8.2 7.8"/>
<path d="M74.81 43.20 L76.02 43.27 L77.23 43.37 L78.43 43.49 L79.64 43.64 L80.85 43.83 L82.05 44.04 L83.26 44.28 L84.47 44.56 L85.67 44.86 L86.88 45.20 L88.09 45.57 L89.29 45.96 L90.50 46.39 L91.71 46.85 L92.91 47.34 L94.12 47.86 L95.33 48.41 L96.53 48.99 L97.74 49.60 L98.95 50.24 L100.15 50.91 L101.36 51.62 L102.57 52.35 L103.77 53.11 L104.98 53.91 L106.19 54.73 L107.39 55.59 L108.60 56.47 L109.81 57.39 L111.01 58.34 L112.22 59.32 L113.43 60.32 L114.63 61.36 L115.84 62.43 L117.05 63.53 L118.25 64.66 L119.46 65.82 L120.67 67.01 L121.87 68.23 L123.08 69.48 L124.29 70.77 L125.49 72.08 L126.70 73.43 L127.91 74.80 L129.11 76.21 L130.32 77.65 L131.53 79.12 L132.73 80.61 L133.94 82.14 L135.15 83.70 L136.35 85.28 L137.56 86.90 L138.77 88.54 L139.97 90.21 L141.18 91.91 L142.39 93.64 L143.59 95.41 L144.80 97.21 L146.01 99.05 L147.21 100.93 L148.42 102.85 L149.63 104.82 L150.83 106.82 L152.04 108.88 L153.24 110.97 L154.45 113.10 L155.66 115.27 L156.86 117.48 L158.07 119.73 L159.28 122.00 L160.48 124.31 L161.69 126.64 L162.90 129.00 L164.10 131.39 L165.31 133.80 L166.52 136.24 L167.72 138.70 L168.93 141.18 L170.14 143.68 L171.34 146.21 L172.55 148.75 L173.76 151.32 L174.96 153.90 L176.17 156.50 L177.38 159.13 L178.58 161.77 L179.79 164.42 L181.00 167.10 L182.20 169.78 L183.41 172.49 L184.62 175.21 L185.82 177.94 L187.03 180.69 L188.24 183.45 L189.44 186.23 L190.65 189.01 L191.86 191.80 L193.06 194.59 L194.27 197.39 L195.48 200.18 L196.68 202.96 L197.89 205.73 L199.10 208.48 L200.30 211.20 L201.51 213.89 L202.72 216.55 L203.92 219.17 L205.13 221.74 L206.34 224.27 L207.54 226.75 L208.75 229.18 L209.96 231.56 L211.16 233.90 L212.37 236.20 L213.58 238.45 L214.78 240.67 L215.99 242.85 L217.20 245.00 L218.40 247.11 L219.61 249.20 L220.82 251.26 L222.02 253.30 L223.23 255.32 L224.44 257.31 L225.64 259.29 L226.85 261.26 L228.06 263.21 L229.26 265.14 L230.47 267.06 L231.68 268.96 L232.88 270.85 L234.09 272.71 L235.30 274.55 L236.50 276.37 L237.71 278.17 L238.92 279.93 L240.12 281.67 L241.33 283.38 L242.54 285.05 L243.74 286.69 L244.95 288.29 L246.16 289.85 L247.36 291.38 L248.57 292.86 L249.78 294.30 L250.98 295.69 L252.19 297.03 L253.40 298.33 L254.60 299.57 L255.81 300.77 L257.02 301.91 L258.22 303.01 L259.43 304.05 L260.64 305.05 L261.84 306.00 L263.05 306.90 L264.26 307.77 L265.46 308.60 L266.67 309.38 L267.88 310.14 L269.08 310.86 L270.29 311.54 L271.50 312.20 L272.70 312.84 L273.91 313.44 L275.12 314.02 L276.32 314.59 L277.53 315.13 L278.74 315.65 L279.94 316.16 L281.15 316.65 L282.36 317.13 L283.56 317.60 L284.77 318.05 L285.98 318.49 L287.18 318.92 L288.39 319.32 L289.60 319.71 L290.80 320.07 L292.01 320.40 L293.22 320.69 L294.42 320.96 L295.63 321.18 L296.84 321.35 L298.04 321.49 L299.25 321.57 L300.46 321.61 L301.66 321.60 L302.87 321.55 L304.08 321.46 L305.28 321.33 L306.49 321.16 L307.70 320.97 L308.90 320.75 L310.11 320.51 L311.32 320.26 L312.52 319.99 L313.73 319.71 L314.94 319.42 L316.14 319.13 L317.35 318.82 L318.56 318.50 L319.76 318.16 L320.97 317.81 L322.18 317.43 L323.38 317.03 L324.59 316.60 L325.80 316.13 L327.00 315.63 L328.21 315.08 L329.42 314.49 L330.62 313.84 L331.83 313.14 L333.04 312.38 L334.24 311.55 L335.45 310.65 L336.66 309.66 L337.86 308.59 L339.07 307.44 L340.28 306.20 L341.48 304.89 L342.69 303.51 L343.89 302.09 L345.10 300.63 L346.31 299.16 L347.51 297.70 L348.72 296.25 L349.93 294.83 L351.13 293.44 L352.34 292.10 L353.55 290.79 L354.75 289.51 L355.96 288.26 L357.17 287.01 L358.37 285.77 L359.58 284.52 L360.79 283.25 L361.99 281.96 L363.20 280.63 L364.41 279.27 L365.61 277.88 L366.82 276.44 L368.03 274.98 L369.23 273.48 L370.44 271.97 L371.65 270.43 L372.85 268.88 L374.06 267.32 L375.27 265.76 L376.47 264.20 L377.68 262.65 L378.89 261.11 L380.09 259.59 L381.30 258.09 L382.51 256.62 L383.71 255.18 L384.92 253.78 L386.13 252.43 L387.33 251.12 L388.54 249.87 L389.75 248.67 L390.95 247.54 L392.16 246.46 L393.37 245.45 L394.57 244.50 L395.78 243.60 L396.99 242.76 L398.19 241.98 L399.40 241.23 L400.61 240.54 L401.81 239.88 L403.02 239.26 L404.23 238.68 L405.43 238.12 L406.64 237.60 L407.85 237.09 L409.05 236.61 L410.26 236.15 L411.47 235.70 L412.67 235.27 L413.88 234.86 L415.09 234.45 L416.29 234.07 L417.50 233.69 L418.71 233.33 L419.91 232.99 L421.12 232.65 L422.33 232.33 L423.53 232.01 L424.74 231.71 L425.95 231.42 L427.15 231.13 L428.36 230.86 L429.57 230.59 L430.77 230.33 L431.98 230.08 L433.19 229.86 L434.39 229.67 L435.60 229.52" stroke="#7E1650" stroke-width="2.8" fill="none" stroke-linejoin="round" stroke-dasharray="8.2 7.8"/>
<path d="M74.81 36.10 L76.02 36.17 L77.23 36.26 L78.43 36.39 L79.64 36.54 L80.85 36.73 L82.05 36.94 L83.26 37.19 L84.47 37.47 L85.67 37.77 L86.88 38.11 L88.09 38.49 L89.29 38.89 L90.50 39.32 L91.71 39.79 L92.91 40.28 L94.12 40.81 L95.33 41.37 L96.53 41.96 L97.74 42.59 L98.95 43.24 L100.15 43.93 L101.36 44.65 L102.57 45.40 L103.77 46.18 L104.98 46.99 L106.19 47.84 L107.39 48.72 L108.60 49.63 L109.81 50.58 L111.01 51.55 L112.22 52.56 L113.43 53.60 L114.63 54.67 L115.84 55.78 L117.05 56.92 L118.25 58.09 L119.46 59.29 L120.67 60.53 L121.87 61.80 L123.08 63.10 L124.29 64.44 L125.49 65.81 L126.70 67.21 L127.91 68.65 L129.11 70.12 L130.32 71.62 L131.53 73.16 L132.73 74.73 L133.94 76.33 L135.15 77.97 L136.35 79.64 L137.56 81.33 L138.77 83.07 L139.97 84.83 L141.18 86.63 L142.39 88.46 L143.59 90.33 L144.80 92.24 L146.01 94.18 L147.21 96.17 L148.42 98.19 L149.63 100.25 L150.83 102.35 L152.04 104.47 L153.24 106.61 L154.45 108.76 L155.66 110.93 L156.86 113.10 L158.07 115.27 L159.28 117.46 L160.48 119.66 L161.69 121.89 L162.90 124.15 L164.10 126.44 L165.31 128.77 L166.52 131.14 L167.72 133.54 L168.93 135.94 L170.14 138.35 L171.34 140.76 L172.55 143.16 L173.76 145.57 L174.96 148.02 L176.17 150.52 L177.38 153.08 L178.58 155.70 L179.79 158.38 L181.00 161.11 L182.20 163.87 L183.41 166.65 L184.62 169.43 L185.82 172.20 L187.03 174.94 L188.24 177.63 L189.44 180.28 L190.65 182.87 L191.86 185.43 L193.06 187.95 L194.27 190.45 L195.48 192.95 L196.68 195.46 L197.89 197.98 L199.10 200.50 L200.30 203.01 L201.51 205.52 L202.72 208.01 L203.92 210.47 L205.13 212.89 L206.34 215.28 L207.54 217.61 L208.75 219.88 L209.96 222.09 L211.16 224.23 L212.37 226.29 L213.58 228.28 L214.78 230.19 L215.99 232.02 L217.20 233.77 L218.40 235.43 L219.61 237.01 L220.82 238.50 L222.02 239.92 L223.23 241.25 L224.44 242.49 L225.64 243.67 L226.85 244.76 L228.06 245.78 L229.26 246.73 L230.47 247.60 L231.68 248.42 L232.88 249.16 L234.09 249.85 L235.30 250.48 L236.50 251.06 L237.71 251.58 L238.92 252.06 L240.12 252.50 L241.33 252.90 L242.54 253.26 L243.74 253.58 L244.95 253.88 L246.16 254.15 L247.36 254.40 L248.57 254.62 L249.78 254.82 L250.98 255.00 L252.19 255.15 L253.40 255.28 L254.60 255.38 L255.81 255.45 L257.02 255.49 L258.22 255.49 L259.43 255.47 L260.64 255.41 L261.84 255.31 L263.05 255.18 L264.26 255.01 L265.46 254.80 L266.67 254.57 L267.88 254.30 L269.08 254.00 L270.29 253.68 L271.50 253.33 L272.70 252.95 L273.91 252.56 L275.12 252.14 L276.32 251.71 L277.53 251.27 L278.74 250.81 L279.94 250.35 L281.15 249.87 L282.36 249.40 L283.56 248.91 L284.77 248.43 L285.98 247.95 L287.18 247.48 L288.39 247.01 L289.60 246.55 L290.80 246.10 L292.01 245.66 L293.22 245.22 L294.42 244.80 L295.63 244.39 L296.84 243.99 L298.04 243.59 L299.25 243.20 L300.46 242.81 L301.66 242.43 L302.87 242.05 L304.08 241.68 L305.28 241.30 L306.49 240.93 L307.70 240.56 L308.90 240.19 L310.11 239.83 L311.32 239.47 L312.52 239.11 L313.73 238.76 L314.94 238.42 L316.14 238.08 L317.35 237.74 L318.56 237.42 L319.76 237.10 L320.97 236.80 L322.18 236.50 L323.38 236.22 L324.59 235.94 L325.80 235.68 L327.00 235.44 L328.21 235.22 L329.42 235.02 L330.62 234.85 L331.83 234.71 L333.04 234.60 L334.24 234.52 L335.45 234.48 L336.66 234.48 L337.86 234.52 L339.07 234.60 L340.28 234.71 L341.48 234.85 L342.69 235.01 L343.89 235.19 L345.10 235.37 L346.31 235.56 L347.51 235.74 L348.72 235.92 L349.93 236.07 L351.13 236.20 L352.34 236.31 L353.55 236.40 L354.75 236.46 L355.96 236.49 L357.17 236.52 L358.37 236.53 L359.58 236.53 L360.79 236.53 L361.99 236.53 L363.20 236.53 L364.41 236.53 L365.61 236.53 L366.82 236.54 L368.03 236.54 L369.23 236.54 L370.44 236.54 L371.65 236.54 L372.85 236.54 L374.06 236.54 L375.27 236.54 L376.47 236.54 L377.68 236.54 L378.89 236.54 L380.09 236.54 L381.30 236.54 L382.51 236.54 L383.71 236.54 L384.92 236.54 L386.13 236.54 L387.33 236.54 L388.54 236.54 L389.75 236.54 L390.95 236.54 L392.16 236.54 L393.37 236.54 L394.57 236.54 L395.78 236.54 L396.99 236.54 L398.19 236.54 L399.40 236.54 L400.61 236.54 L401.81 236.54 L403.02 236.54 L404.23 236.54 L405.43 236.54 L406.64 236.54 L407.85 236.54 L409.05 236.54 L410.26 236.54 L411.47 236.54 L412.67 236.54 L413.88 236.54 L415.09 236.54 L416.29 236.54 L417.50 236.54 L418.71 236.54 L419.91 236.54 L421.12 236.54 L422.33 236.54 L423.53 236.54 L424.74 236.54 L425.95 236.54 L427.15 236.54 L428.36 236.54 L429.57 236.54 L430.77 236.54 L431.98 236.54 L433.19 236.54 L434.39 236.54 L435.60 236.54" stroke="#22CC22" stroke-width="2.8" fill="none" stroke-linejoin="round" stroke-dasharray="8.2 7.8"/>
<path d="M74.81 36.10 L76.02 36.17 L77.23 36.26 L78.43 36.39 L79.64 36.54 L80.85 36.72 L82.05 36.94 L83.26 37.18 L84.47 37.46 L85.67 37.77 L86.88 38.10 L88.09 38.47 L89.29 38.87 L90.50 39.30 L91.71 39.76 L92.91 40.25 L94.12 40.77 L95.33 41.33 L96.53 41.91 L97.74 42.52 L98.95 43.17 L100.15 43.85 L101.36 44.55 L102.57 45.29 L103.77 46.06 L104.98 46.86 L106.19 47.69 L107.39 48.56 L108.60 49.45 L109.81 50.37 L111.01 51.33 L112.22 52.32 L113.43 53.33 L114.63 54.38 L115.84 55.46 L117.05 56.57 L118.25 57.71 L119.46 58.89 L120.67 60.09 L121.87 61.33 L123.08 62.60 L124.29 63.90 L125.49 65.23 L126.70 66.59 L127.91 67.98 L129.11 69.41 L130.32 70.87 L131.53 72.35 L132.73 73.87 L133.94 75.42 L135.15 77.00 L136.35 78.61 L137.56 80.25 L138.77 81.92 L139.97 83.62 L141.18 85.35 L142.39 87.12 L143.59 88.92 L144.80 90.75 L146.01 92.62 L147.21 94.53 L148.42 96.47 L149.63 98.44 L150.83 100.45 L152.04 102.48 L153.24 104.53 L154.45 106.59 L155.66 108.66 L156.86 110.73 L158.07 112.80 L159.28 114.88 L160.48 116.97 L161.69 119.09 L162.90 121.23 L164.10 123.41 L165.31 125.62 L166.52 127.86 L167.72 130.13 L168.93 132.40 L170.14 134.68 L171.34 136.94 L172.55 139.21 L173.76 141.48 L174.96 143.79 L176.17 146.14 L177.38 148.54 L178.58 151.00 L179.79 153.50 L181.00 156.03 L182.20 158.57 L183.41 161.11 L184.62 163.66 L185.82 166.21 L187.03 168.77 L188.24 171.34 L189.44 173.93 L190.65 176.54 L191.86 179.18 L193.06 181.84 L194.27 184.52 L195.48 187.23 L196.68 189.94 L197.89 192.66 L199.10 195.39 L200.30 198.12 L201.51 200.85 L202.72 203.57 L203.92 206.29 L205.13 208.99 L206.34 211.69 L207.54 214.36 L208.75 217.02 L209.96 219.66 L211.16 222.28 L212.37 224.86 L213.58 227.41 L214.78 229.93 L215.99 232.39 L217.20 234.81 L218.40 237.18 L219.61 239.48 L220.82 241.73 L222.02 243.90 L223.23 246.00 L224.44 248.02 L225.64 249.96 L226.85 251.81 L228.06 253.56 L229.26 255.22 L230.47 256.78 L231.68 258.24 L232.88 259.59 L234.09 260.86 L235.30 262.02 L236.50 263.11 L237.71 264.11 L238.92 265.04 L240.12 265.90 L241.33 266.70 L242.54 267.45 L243.74 268.16 L244.95 268.82 L246.16 269.46 L247.36 270.07 L248.57 270.65 L249.78 271.22 L250.98 271.78 L252.19 272.33 L253.40 272.86 L254.60 273.38 L255.81 273.89 L257.02 274.38 L258.22 274.86 L259.43 275.33 L260.64 275.78 L261.84 276.21 L263.05 276.62 L264.26 277.01 L265.46 277.39 L266.67 277.74 L267.88 278.06 L269.08 278.37 L270.29 278.65 L271.50 278.90 L272.70 279.13 L273.91 279.33 L275.12 279.50 L276.32 279.64 L277.53 279.75 L278.74 279.83 L279.94 279.86 L281.15 279.86 L282.36 279.81 L283.56 279.71 L284.77 279.54 L285.98 279.32 L287.18 279.03 L288.39 278.67 L289.60 278.23 L290.80 277.73 L292.01 277.17 L293.22 276.55 L294.42 275.90 L295.63 275.23 L296.84 274.54 L298.04 273.85 L299.25 273.16 L300.46 272.48 L301.66 271.81 L302.87 271.14 L304.08 270.48 L305.28 269.82 L306.49 269.17 L307.70 268.52 L308.90 267.87 L310.11 267.22 L311.32 266.57 L312.52 265.92 L313.73 265.27 L314.94 264.61 L316.14 263.95 L317.35 263.29 L318.56 262.62 L319.76 261.96 L320.97 261.29 L322.18 260.62 L323.38 259.95 L324.59 259.27 L325.80 258.60 L327.00 257.93 L328.21 257.26 L329.42 256.59 L330.62 255.93 L331.83 255.29 L333.04 254.66 L334.24 254.06 L335.45 253.49 L336.66 252.96 L337.86 252.47 L339.07 252.04 L340.28 251.66 L341.48 251.35 L342.69 251.10 L343.89 250.90 L345.10 250.76 L346.31 250.67 L347.51 250.60 L348.72 250.57 L349.93 250.54 L351.13 250.53 L352.34 250.53 L353.55 250.53 L354.75 250.53 L355.96 250.53 L357.17 250.53 L358.37 250.53 L359.58 250.53 L360.79 250.53 L361.99 250.53 L363.20 250.53 L364.41 250.53 L365.61 250.53 L366.82 250.53 L368.03 250.53 L369.23 250.53 L370.44 250.53 L371.65 250.53 L372.85 250.53 L374.06 250.53 L375.27 250.53 L376.47 250.53 L377.68 250.53 L378.89 250.53 L380.09 250.53 L381.30 250.53 L382.51 250.53 L383.71 250.53 L384.92 250.53 L386.13 250.53 L387.33 250.53 L388.54 250.53 L389.75 250.53 L390.95 250.53 L392.16 250.53 L393.37 250.53 L394.57 250.53 L395.78 250.53 L396.99 250.53 L398.19 250.53 L399.40 250.53 L400.61 250.53 L401.81 250.53 L403.02 250.53 L404.23 250.53 L405.43 250.53 L406.64 250.53 L407.85 250.53 L409.05 250.53 L410.26 250.53 L411.47 250.53 L412.67 250.53 L413.88 250.53 L415.09 250.53 L416.29 250.53 L417.50 250.53 L418.71 250.53 L419.91 250.53 L421.12 250.53 L422.33 250.53 L423.53 250.53 L424.74 250.53 L425.95 250.53 L427.15 250.53 L428.36 250.53 L429.57 250.53 L430.77 250.53 L431.98 250.53 L433.19 250.53 L434.39 250.53 L435.60 250.53" stroke="#3A30DC" stroke-width="2.5" fill="none" stroke-linejoin="round" stroke-dasharray="1.8 2.1"/>
<path d="M74.81 36.09 L76.02 36.15 L77.23 36.23 L78.43 36.33 L79.64 36.47 L80.85 36.62 L82.05 36.81 L83.26 37.02 L84.47 37.26 L85.67 37.52 L86.88 37.81 L88.09 38.12 L89.29 38.46 L90.50 38.83 L91.71 39.22 L92.91 39.64 L94.12 40.08 L95.33 40.56 L96.53 41.05 L97.74 41.58 L98.95 42.13 L100.15 42.71 L101.36 43.32 L102.57 43.96 L103.77 44.62 L104.98 45.31 L106.19 46.03 L107.39 46.79 L108.60 47.57 L109.81 48.38 L111.01 49.22 L112.22 50.09 L113.43 50.99 L114.63 51.92 L115.84 52.88 L117.05 53.87 L118.25 54.90 L119.46 55.95 L120.67 57.04 L121.87 58.16 L123.08 59.32 L124.29 60.50 L125.49 61.72 L126.70 62.97 L127.91 64.25 L129.11 65.57 L130.32 66.92 L131.53 68.30 L132.73 69.72 L133.94 71.17 L135.15 72.65 L136.35 74.16 L137.56 75.70 L138.77 77.28 L139.97 78.88 L141.18 80.52 L142.39 82.19 L143.59 83.88 L144.80 85.61 L146.01 87.37 L147.21 89.15 L148.42 90.97 L149.63 92.82 L150.83 94.69 L152.04 96.60 L153.24 98.53 L154.45 100.49 L155.66 102.49 L156.86 104.51 L158.07 106.56 L159.28 108.64 L160.48 110.75 L161.69 112.89 L162.90 115.06 L164.10 117.25 L165.31 119.48 L166.52 121.74 L167.72 124.04 L168.93 126.36 L170.14 128.73 L171.34 131.14 L172.55 133.59 L173.76 136.08 L174.96 138.62 L176.17 141.19 L177.38 143.80 L178.58 146.42 L179.79 149.06 L181.00 151.69 L182.20 154.32 L183.41 156.94 L184.62 159.55 L185.82 162.16 L187.03 164.78 L188.24 167.41 L189.44 170.07 L190.65 172.76 L191.86 175.47 L193.06 178.22 L194.27 180.99 L195.48 183.78 L196.68 186.58 L197.89 189.38 L199.10 192.19 L200.30 194.99 L201.51 197.79 L202.72 200.58 L203.92 203.39 L205.13 206.19 L206.34 209.01 L207.54 211.83 L208.75 214.67 L209.96 217.51 L211.16 220.37 L212.37 223.24 L213.58 226.11 L214.78 228.98 L215.99 231.85 L217.20 234.70 L218.40 237.53 L219.61 240.35 L220.82 243.14 L222.02 245.89 L223.23 248.61 L224.44 251.28 L225.64 253.90 L226.85 256.47 L228.06 258.98 L229.26 261.42 L230.47 263.80 L231.68 266.10 L232.88 268.33 L234.09 270.48 L235.30 272.55 L236.50 274.54 L237.71 276.47 L238.92 278.32 L240.12 280.10 L241.33 281.82 L242.54 283.48 L243.74 285.08 L244.95 286.63 L246.16 288.13 L247.36 289.58 L248.57 290.98 L249.78 292.35 L250.98 293.67 L252.19 294.97 L253.40 296.23 L254.60 297.46 L255.81 298.66 L257.02 299.84 L258.22 301.00 L259.43 302.13 L260.64 303.23 L261.84 304.31 L263.05 305.37 L264.26 306.41 L265.46 307.42 L266.67 308.41 L267.88 309.38 L269.08 310.32 L270.29 311.25 L271.50 312.15 L272.70 313.03 L273.91 313.89 L275.12 314.73 L276.32 315.55 L277.53 316.34 L278.74 317.12 L279.94 317.87 L281.15 318.61 L282.36 319.32 L283.56 320.01 L284.77 320.68 L285.98 321.32 L287.18 321.95 L288.39 322.55 L289.60 323.13 L290.80 323.68 L292.01 324.21 L293.22 324.72 L294.42 325.20 L295.63 325.66 L296.84 326.08 L298.04 326.48 L299.25 326.86 L300.46 327.20 L301.66 327.51 L302.87 327.79 L304.08 328.04 L305.28 328.26 L306.49 328.44 L307.70 328.59 L308.90 328.71 L310.11 328.79 L311.32 328.84 L312.52 328.86 L313.73 328.85 L314.94 328.81 L316.14 328.74 L317.35 328.65 L318.56 328.53 L319.76 328.38 L320.97 328.22 L322.18 328.03 L323.38 327.82 L324.59 327.59 L325.80 327.33 L327.00 327.05 L328.21 326.73 L329.42 326.38 L330.62 325.99 L331.83 325.55 L333.04 325.05 L334.24 324.51 L335.45 323.91 L336.66 323.25 L337.86 322.53 L339.07 321.77 L340.28 320.96 L341.48 320.10 L342.69 319.22 L343.89 318.31 L345.10 317.37 L346.31 316.41 L347.51 315.44 L348.72 314.45 L349.93 313.43 L351.13 312.41 L352.34 311.36 L353.55 310.30 L354.75 309.22 L355.96 308.12 L357.17 307.00 L358.37 305.87 L359.58 304.73 L360.79 303.56 L361.99 302.38 L363.20 301.18 L364.41 299.97 L365.61 298.74 L366.82 297.49 L368.03 296.23 L369.23 294.95 L370.44 293.66 L371.65 292.34 L372.85 291.01 L374.06 289.66 L375.27 288.28 L376.47 286.88 L377.68 285.45 L378.89 284.00 L380.09 282.51 L381.30 280.99 L382.51 279.45 L383.71 277.87 L384.92 276.27 L386.13 274.66 L387.33 273.03 L388.54 271.39 L389.75 269.76 L390.95 268.14 L392.16 266.53 L393.37 264.94 L394.57 263.39 L395.78 261.86 L396.99 260.38 L398.19 258.95 L399.40 257.58 L400.61 256.26 L401.81 255.02 L403.02 253.85 L404.23 252.75 L405.43 251.75 L406.64 250.83 L407.85 250.01 L409.05 249.29 L410.26 248.67 L411.47 248.15 L412.67 247.74 L413.88 247.42 L415.09 247.19 L416.29 247.04 L417.50 246.94 L418.71 246.90 L419.91 246.88 L421.12 246.88 L422.33 246.88 L423.53 246.89 L424.74 246.89 L425.95 246.89 L427.15 246.89 L428.36 246.88 L429.57 246.88 L430.77 246.88 L431.98 246.88 L433.19 246.88 L434.39 246.88 L435.60 246.88" stroke="#D0661A" stroke-width="2.8" fill="none" stroke-linejoin="round" stroke-dasharray="8.2 7.8"/>
<path d="M74.81 36.10 L76.02 36.17 L77.23 36.26 L78.43 36.39 L79.64 36.54 L80.85 36.73 L82.05 36.94 L83.26 37.19 L84.47 37.46 L85.67 37.77 L86.88 38.11 L88.09 38.48 L89.29 38.88 L90.50 39.31 L91.71 39.77 L92.91 40.27 L94.12 40.79 L95.33 41.35 L96.53 41.93 L97.74 42.55 L98.95 43.20 L100.15 43.88 L101.36 44.60 L102.57 45.34 L103.77 46.12 L104.98 46.92 L106.19 47.76 L107.39 48.63 L108.60 49.54 L109.81 50.47 L111.01 51.43 L112.22 52.43 L113.43 53.46 L114.63 54.52 L115.84 55.61 L117.05 56.74 L118.25 57.89 L119.46 59.08 L120.67 60.30 L121.87 61.55 L123.08 62.84 L124.29 64.15 L125.49 65.50 L126.70 66.88 L127.91 68.30 L129.11 69.75 L130.32 71.23 L131.53 72.74 L132.73 74.28 L133.94 75.85 L135.15 77.46 L136.35 79.10 L137.56 80.76 L138.77 82.46 L139.97 84.19 L141.18 85.96 L142.39 87.75 L143.59 89.59 L144.80 91.46 L146.01 93.36 L147.21 95.30 L148.42 97.28 L149.63 99.30 L150.83 101.35 L152.04 103.42 L153.24 105.51 L154.45 107.62 L155.66 109.73 L156.86 111.85 L158.07 113.97 L159.28 116.10 L160.48 118.25 L161.69 120.41 L162.90 122.61 L164.10 124.84 L165.31 127.11 L166.52 129.42 L167.72 131.74 L168.93 134.08 L170.14 136.42 L171.34 138.75 L172.55 141.08 L173.76 143.42 L174.96 145.79 L176.17 148.22 L177.38 150.69 L178.58 153.23 L179.79 155.81 L181.00 158.43 L182.20 161.07 L183.41 163.72 L184.62 166.37 L185.82 169.02 L187.03 171.66 L188.24 174.30 L189.44 176.93 L190.65 179.55 L191.86 182.17 L193.06 184.79 L194.27 187.42 L195.48 190.05 L196.68 192.68 L197.89 195.33 L199.10 197.98 L200.30 200.62 L201.51 203.25 L202.72 205.85 L203.92 208.44 L205.13 210.99 L206.34 213.49 L207.54 215.95 L208.75 218.36 L209.96 220.71 L211.16 223.01 L212.37 225.26 L213.58 227.46 L214.78 229.61 L215.99 231.73 L217.20 233.83 L218.40 235.90 L219.61 237.95 L220.82 239.99 L222.02 242.04 L223.23 244.08 L224.44 246.13 L225.64 248.20 L226.85 250.29 L228.06 252.40 L229.26 254.52 L230.47 256.67 L231.68 258.82 L232.88 260.98 L234.09 263.15 L235.30 265.31 L236.50 267.46 L237.71 269.59 L238.92 271.70 L240.12 273.79 L241.33 275.83 L242.54 277.84 L243.74 279.79 L244.95 281.69 L246.16 283.54 L247.36 285.31 L248.57 287.02 L249.78 288.66 L250.98 290.22 L252.19 291.70 L253.40 293.12 L254.60 294.47 L255.81 295.75 L257.02 296.98 L258.22 298.15 L259.43 299.27 L260.64 300.34 L261.84 301.38 L263.05 302.38 L264.26 303.35 L265.46 304.28 L266.67 305.19 L267.88 306.07 L269.08 306.92 L270.29 307.75 L271.50 308.55 L272.70 309.31 L273.91 310.06 L275.12 310.77 L276.32 311.45 L277.53 312.11 L278.74 312.73 L279.94 313.33 L281.15 313.90 L282.36 314.44 L283.56 314.94 L284.77 315.43 L285.98 315.88 L287.18 316.31 L288.39 316.70 L289.60 317.08 L290.80 317.42 L292.01 317.74 L293.22 318.04 L294.42 318.30 L295.63 318.55 L296.84 318.76 L298.04 318.96 L299.25 319.12 L300.46 319.26 L301.66 319.38 L302.87 319.47 L304.08 319.53 L305.28 319.57 L306.49 319.58 L307.70 319.57 L308.90 319.53 L310.11 319.46 L311.32 319.37 L312.52 319.25 L313.73 319.11 L314.94 318.94 L316.14 318.75 L317.35 318.52 L318.56 318.28 L319.76 318.00 L320.97 317.70 L322.18 317.38 L323.38 317.02 L324.59 316.64 L325.80 316.24 L327.00 315.81 L328.21 315.35 L329.42 314.86 L330.62 314.33 L331.83 313.78 L333.04 313.18 L334.24 312.54 L335.45 311.84 L336.66 311.08 L337.86 310.26 L339.07 309.36 L340.28 308.39 L341.48 307.33 L342.69 306.18 L343.89 304.93 L345.10 303.59 L346.31 302.16 L347.51 300.65 L348.72 299.06 L349.93 297.42 L351.13 295.74 L352.34 294.02 L353.55 292.29 L354.75 290.54 L355.96 288.80 L357.17 287.06 L358.37 285.35 L359.58 283.66 L360.79 282.00 L361.99 280.38 L363.20 278.81 L364.41 277.29 L365.61 275.82 L366.82 274.39 L368.03 273.00 L369.23 271.65 L370.44 270.34 L371.65 269.05 L372.85 267.78 L374.06 266.52 L375.27 265.27 L376.47 264.02 L377.68 262.77 L378.89 261.50 L380.09 260.23 L381.30 258.93 L382.51 257.62 L383.71 256.29 L384.92 254.95 L386.13 253.61 L387.33 252.27 L388.54 250.93 L389.75 249.62 L390.95 248.33 L392.16 247.08 L393.37 245.88 L394.57 244.73 L395.78 243.64 L396.99 242.62 L398.19 241.69 L399.40 240.84 L400.61 240.08 L401.81 239.43 L403.02 238.89 L404.23 238.45 L405.43 238.13 L406.64 237.92 L407.85 237.82 L409.05 237.81 L410.26 237.89 L411.47 238.04 L412.67 238.23 L413.88 238.45 L415.09 238.67 L416.29 238.87 L417.50 239.05 L418.71 239.18 L419.91 239.27 L421.12 239.31 L422.33 239.33 L423.53 239.33 L424.74 239.31 L425.95 239.30 L427.15 239.29 L428.36 239.29 L429.57 239.29 L430.77 239.29 L431.98 239.29 L433.19 239.30 L434.39 239.30 L435.60 239.30" stroke="#F0843F" stroke-width="3.0" fill="none" stroke-linejoin="round"/>
<path d="M74.81 36.10 L76.02 36.17 L77.23 36.26 L78.43 36.39 L79.64 36.54 L80.85 36.72 L82.05 36.94 L83.26 37.18 L84.47 37.46 L85.67 37.76 L86.88 38.10 L88.09 38.46 L89.29 38.86 L90.50 39.29 L91.71 39.75 L92.91 40.24 L94.12 40.76 L95.33 41.31 L96.53 41.89 L97.74 42.50 L98.95 43.14 L100.15 43.81 L101.36 44.51 L102.57 45.25 L103.77 46.01 L104.98 46.80 L106.19 47.63 L107.39 48.49 L108.60 49.37 L109.81 50.29 L111.01 51.23 L112.22 52.21 L113.43 53.22 L114.63 54.26 L115.84 55.33 L117.05 56.43 L118.25 57.56 L119.46 58.72 L120.67 59.91 L121.87 61.13 L123.08 62.38 L124.29 63.67 L125.49 64.98 L126.70 66.33 L127.91 67.70 L129.11 69.11 L130.32 70.55 L131.53 72.01 L132.73 73.51 L133.94 75.04 L135.15 76.60 L136.35 78.18 L137.56 79.80 L138.77 81.44 L139.97 83.11 L141.18 84.82 L142.39 86.55 L143.59 88.32 L144.80 90.12 L146.01 91.96 L147.21 93.83 L148.42 95.74 L149.63 97.68 L150.83 99.65 L152.04 101.65 L153.24 103.66 L154.45 105.68 L155.66 107.70 L156.86 109.73 L158.07 111.76 L159.28 113.79 L160.48 115.84 L161.69 117.91 L162.90 120.00 L164.10 122.13 L165.31 124.29 L166.52 126.48 L167.72 128.69 L168.93 130.91 L170.14 133.13 L171.34 135.34 L172.55 137.54 L173.76 139.76 L174.96 142.00 L176.17 144.29 L177.38 146.63 L178.58 149.02 L179.79 151.45 L181.00 153.89 L182.20 156.34 L183.41 158.79 L184.62 161.24 L185.82 163.70 L187.03 166.18 L188.24 168.70 L189.44 171.26 L190.65 173.87 L191.86 176.54 L193.06 179.26 L194.27 182.02 L195.48 184.82 L196.68 187.63 L197.89 190.44 L199.10 193.26 L200.30 196.07 L201.51 198.87 L202.72 201.67 L203.92 204.47 L205.13 207.26 L206.34 210.07 L207.54 212.88 L208.75 215.70 L209.96 218.53 L211.16 221.37 L212.37 224.22 L213.58 227.07 L214.78 229.93 L215.99 232.79 L217.20 235.64 L218.40 238.48 L219.61 241.30 L220.82 244.11 L222.02 246.90 L223.23 249.67 L224.44 252.41 L225.64 255.11 L226.85 257.78 L228.06 260.41 L229.26 262.99 L230.47 265.53 L231.68 268.02 L232.88 270.45 L234.09 272.82 L235.30 275.15 L236.50 277.41 L237.71 279.62 L238.92 281.77 L240.12 283.87 L241.33 285.91 L242.54 287.91 L243.74 289.85 L244.95 291.75 L246.16 293.59 L247.36 295.40 L248.57 297.16 L249.78 298.87 L250.98 300.55 L252.19 302.18 L253.40 303.78 L254.60 305.34 L255.81 306.86 L257.02 308.35 L258.22 309.81 L259.43 311.23 L260.64 312.63 L261.84 313.99 L263.05 315.33 L264.26 316.65 L265.46 317.93 L266.67 319.20 L267.88 320.44 L269.08 321.66 L270.29 322.86 L271.50 324.04 L272.70 325.20 L273.91 326.34 L275.12 327.47 L276.32 328.58 L277.53 329.68 L278.74 330.75 L279.94 331.82 L281.15 332.87 L282.36 333.90 L283.56 334.91 L284.77 335.91 L285.98 336.88 L287.18 337.83 L288.39 338.77 L289.60 339.67 L290.80 340.55 L292.01 341.41 L293.22 342.23 L294.42 343.03 L295.63 343.79 L296.84 344.53 L298.04 345.23 L299.25 345.89 L300.46 346.52 L301.66 347.12 L302.87 347.68 L304.08 348.20 L305.28 348.69 L306.49 349.14 L307.70 349.56 L308.90 349.95 L310.11 350.30 L311.32 350.62 L312.52 350.91 L313.73 351.16 L314.94 351.38 L316.14 351.57 L317.35 351.73 L318.56 351.86 L319.76 351.96 L320.97 352.03 L322.18 352.07 L323.38 352.08 L324.59 352.07 L325.80 352.02 L327.00 351.95 L328.21 351.85 L329.42 351.71 L330.62 351.56 L331.83 351.37 L333.04 351.15 L334.24 350.90 L335.45 350.63 L336.66 350.32 L337.86 349.98 L339.07 349.61 L340.28 349.20 L341.48 348.77 L342.69 348.30 L343.89 347.80 L345.10 347.26 L346.31 346.69 L347.51 346.08 L348.72 345.44 L349.93 344.76 L351.13 344.05 L352.34 343.30 L353.55 342.51 L354.75 341.69 L355.96 340.82 L357.17 339.92 L358.37 338.98 L359.58 338.00 L360.79 336.98 L361.99 335.93 L363.20 334.84 L364.41 333.71 L365.61 332.54 L366.82 331.34 L368.03 330.11 L369.23 328.85 L370.44 327.55 L371.65 326.23 L372.85 324.88 L374.06 323.51 L375.27 322.11 L376.47 320.68 L377.68 319.24 L378.89 317.77 L380.09 316.28 L381.30 314.77 L382.51 313.25 L383.71 311.71 L384.92 310.16 L386.13 308.59 L387.33 307.01 L388.54 305.42 L389.75 303.82 L390.95 302.21 L392.16 300.60 L393.37 298.98 L394.57 297.36 L395.78 295.74 L396.99 294.12 L398.19 292.51 L399.40 290.91 L400.61 289.32 L401.81 287.74 L403.02 286.19 L404.23 284.65 L405.43 283.14 L406.64 281.66 L407.85 280.20 L409.05 278.78 L410.26 277.39 L411.47 276.03 L412.67 274.71 L413.88 273.43 L415.09 272.17 L416.29 270.96 L417.50 269.77 L418.71 268.62 L419.91 267.50 L421.12 266.41 L422.33 265.35 L423.53 264.32 L424.74 263.32 L425.95 262.35 L427.15 261.40 L428.36 260.47 L429.57 259.56 L430.77 258.68 L431.98 257.85 L433.19 257.09 L434.39 256.44 L435.60 255.93" stroke="#8A30FF" stroke-width="3.0" fill="none" stroke-linejoin="round"/>
</g>
<text class="tk" x="72.8" y="400.2" text-anchor="middle">0</text>
<text class="tk" x="163.4" y="400.2" text-anchor="middle">50</text>
<text class="tk" x="254.1" y="400.2" text-anchor="middle">100</text>
<text class="tk" x="344.8" y="400.2" text-anchor="middle">150</text>
<text class="tk" x="435.4" y="400.2" text-anchor="middle">200</text>
<text class="tk" x="65.3" y="36.4" text-anchor="end">200</text>
<text class="tk" x="65.3" y="105.5" text-anchor="end">0</text>
<text class="tk" x="65.3" y="174.6" text-anchor="end">-200</text>
<text class="tk" x="65.3" y="243.8" text-anchor="end">-400</text>
<text class="tk" x="65.3" y="312.9" text-anchor="end">-600</text>
<text class="tk" x="65.3" y="382.0" text-anchor="end">-800</text>
<rect x="251.4" y="60.1" width="144.6" height="129.4" fill="#fff"/>
<rect x="251.4" y="60.1" width="144.6" height="129.4" fill="none" stroke="#303030" stroke-width="1.3"/>
<path d="M323.70 189.5 v-3.0 M323.70 60.1 v3.0" stroke="#303030" stroke-width="1.3"/>
<path d="M251.4 85.98 h3.0 M396.0 85.98 h-3.0" stroke="#303030" stroke-width="1.3"/>
<path d="M251.4 111.86 h3.0 M396.0 111.86 h-3.0" stroke="#303030" stroke-width="1.3"/>
<path d="M251.4 137.74 h3.0 M396.0 137.74 h-3.0" stroke="#303030" stroke-width="1.3"/>
<path d="M251.4 163.62 h3.0 M396.0 163.62 h-3.0" stroke="#303030" stroke-width="1.3"/>
<g clip-path="url(#ci)">
<path d="M222.48 108.89 L224.29 110.81 L226.09 112.74 L227.90 114.66 L229.71 116.59 L231.52 118.51 L233.33 120.44 L235.13 122.37 L236.94 124.30 L238.75 126.23 L240.56 128.16 L242.36 130.10 L244.17 132.03 L245.98 133.97 L247.78 135.91 L249.59 137.85 L251.40 139.79 L253.21 141.73 L255.02 143.68 L256.82 145.62 L258.63 147.57 L260.44 149.53 L262.25 151.48 L264.05 153.44 L265.86 155.40 L267.67 157.37 L269.48 159.33 L271.28 161.30 L273.09 163.28 L274.90 165.25 L276.70 167.23 L278.51 169.22 L280.32 171.21 L282.13 173.20 L283.94 175.19 L285.74 177.19 L287.55 179.19 L289.36 181.20 L291.17 183.21 L292.97 185.22 L294.78 187.24 L296.59 189.25 L298.39 191.27 L300.20 193.30 L302.01 195.32 L303.82 197.35 L305.62 199.38 L307.43 201.40 L309.24 203.43 L311.05 205.46 L312.86 207.49 L314.66 209.52 L316.47 211.55 L318.28 213.57 L320.09 215.59 L321.89 217.61 L323.70 219.63 L325.51 221.64 L327.31 223.65 L329.12 225.65 L330.93 227.65 L332.74 229.64 L334.55 231.63 L336.35 233.61 L338.16 235.58 L339.97 237.55 L341.77 239.51 L343.58 241.46 L345.39 243.40 L347.20 245.33 L349.00 247.26 L350.81 249.17 L352.62 251.08 L354.43 252.98 L356.24 254.87 L358.04 256.75 L359.85 258.62 L361.66 260.48 L363.46 262.33 L365.27 264.18 L367.08 266.01 L368.89 267.84 L370.69 269.65 L372.50 271.46 L374.31 273.26 L376.12 275.05 L377.93 276.83 L379.73 278.61 L381.54 280.38 L383.35 282.13 L385.15 283.88 L386.96 285.63 L388.77 287.36 L390.58 289.09 L392.38 290.81 L394.19 292.53 L396.00 294.23 L397.81 295.93 L399.62 297.62 L401.42 299.31 L403.23 300.99 L405.04 302.66 L406.85 304.32 L408.65 305.97 L410.46 307.62 L412.27 309.26 L414.08 310.90 L415.88 312.52 L417.69 314.14 L419.50 315.75 L421.31 317.36 L423.11 318.95 L424.92 320.53" stroke="#9E5E18" stroke-width="2.8" fill="none" stroke-linejoin="round" stroke-dasharray="8.2 7.8"/>
<path d="M222.48 67.85 L224.29 69.62 L226.09 71.40 L227.90 73.17 L229.71 74.95 L231.52 76.74 L233.33 78.52 L235.13 80.31 L236.94 82.10 L238.75 83.90 L240.56 85.69 L242.36 87.49 L244.17 89.30 L245.98 91.10 L247.78 92.91 L249.59 94.72 L251.40 96.54 L253.21 98.35 L255.02 100.17 L256.82 101.99 L258.63 103.82 L260.44 105.64 L262.25 107.47 L264.05 109.30 L265.86 111.13 L267.67 112.96 L269.48 114.79 L271.28 116.63 L273.09 118.46 L274.90 120.30 L276.70 122.13 L278.51 123.97 L280.32 125.81 L282.13 127.64 L283.94 129.48 L285.74 131.32 L287.55 133.15 L289.36 134.99 L291.17 136.82 L292.97 138.65 L294.78 140.49 L296.59 142.32 L298.39 144.14 L300.20 145.97 L302.01 147.79 L303.82 149.62 L305.62 151.43 L307.43 153.25 L309.24 155.06 L311.05 156.87 L312.86 158.68 L314.66 160.48 L316.47 162.28 L318.28 164.07 L320.09 165.86 L321.89 167.65 L323.70 169.43 L325.51 171.21 L327.31 172.98 L329.12 174.75 L330.93 176.51 L332.74 178.26 L334.55 180.01 L336.35 181.76 L338.16 183.50 L339.97 185.23 L341.77 186.96 L343.58 188.68 L345.39 190.39 L347.20 192.10 L349.00 193.81 L350.81 195.50 L352.62 197.19 L354.43 198.87 L356.24 200.55 L358.04 202.22 L359.85 203.88 L361.66 205.54 L363.46 207.19 L365.27 208.84 L367.08 210.47 L368.89 212.10 L370.69 213.73 L372.50 215.35 L374.31 216.96 L376.12 218.56 L377.93 220.16 L379.73 221.75 L381.54 223.34 L383.35 224.92 L385.15 226.49 L386.96 228.06 L388.77 229.62 L390.58 231.18 L392.38 232.72 L394.19 234.27 L396.00 235.81 L397.81 237.34 L399.62 238.86 L401.42 240.38 L403.23 241.90 L405.04 243.41 L406.85 244.91 L408.65 246.41 L410.46 247.90 L412.27 249.38 L414.08 250.87 L415.88 252.34 L417.69 253.81 L419.50 255.28 L421.31 256.74 L423.11 258.19 L424.92 259.65" stroke="#2F5FBA" stroke-width="2.8" fill="none" stroke-linejoin="round" stroke-dasharray="8.2 7.8"/>
<path d="M222.48 37.47 L224.29 39.32 L226.09 41.17 L227.90 43.02 L229.71 44.88 L231.52 46.74 L233.33 48.61 L235.13 50.48 L236.94 52.35 L238.75 54.23 L240.56 56.11 L242.36 58.00 L244.17 59.89 L245.98 61.78 L247.78 63.68 L249.59 65.58 L251.40 67.48 L253.21 69.39 L255.02 71.30 L256.82 73.22 L258.63 75.13 L260.44 77.05 L262.25 78.97 L264.05 80.90 L265.86 82.83 L267.67 84.76 L269.48 86.69 L271.28 88.62 L273.09 90.56 L274.90 92.50 L276.70 94.44 L278.51 96.38 L280.32 98.32 L282.13 100.26 L283.94 102.20 L285.74 104.15 L287.55 106.09 L289.36 108.04 L291.17 109.98 L292.97 111.92 L294.78 113.87 L296.59 115.81 L298.39 117.75 L300.20 119.69 L302.01 121.63 L303.82 123.57 L305.62 125.51 L307.43 127.44 L309.24 129.37 L311.05 131.30 L312.86 133.23 L314.66 135.16 L316.47 137.08 L318.28 139.00 L320.09 140.91 L321.89 142.82 L323.70 144.73 L325.51 146.64 L327.31 148.54 L329.12 150.43 L330.93 152.32 L332.74 154.21 L334.55 156.09 L336.35 157.97 L338.16 159.84 L339.97 161.70 L341.77 163.56 L343.58 165.42 L345.39 167.27 L347.20 169.11 L349.00 170.94 L350.81 172.77 L352.62 174.60 L354.43 176.41 L356.24 178.22 L358.04 180.02 L359.85 181.82 L361.66 183.61 L363.46 185.39 L365.27 187.16 L367.08 188.93 L368.89 190.68 L370.69 192.43 L372.50 194.18 L374.31 195.91 L376.12 197.64 L377.93 199.36 L379.73 201.07 L381.54 202.78 L383.35 204.47 L385.15 206.16 L386.96 207.84 L388.77 209.52 L390.58 211.19 L392.38 212.84 L394.19 214.50 L396.00 216.14 L397.81 217.78 L399.62 219.41 L401.42 221.03 L403.23 222.65 L405.04 224.26 L406.85 225.86 L408.65 227.45 L410.46 229.04 L412.27 230.62 L414.08 232.20 L415.88 233.77 L417.69 235.33 L419.50 236.89 L421.31 238.44 L423.11 239.98 L424.92 241.52" stroke="#1E8C1E" stroke-width="2.8" fill="none" stroke-linejoin="round" stroke-dasharray="8.2 7.8"/>
<path d="M222.48 26.55 L224.29 28.35 L226.09 30.16 L227.90 31.97 L229.71 33.78 L231.52 35.60 L233.33 37.42 L235.13 39.24 L236.94 41.07 L238.75 42.90 L240.56 44.73 L242.36 46.57 L244.17 48.40 L245.98 50.25 L247.78 52.09 L249.59 53.94 L251.40 55.79 L253.21 57.65 L255.02 59.50 L256.82 61.36 L258.63 63.22 L260.44 65.09 L262.25 66.96 L264.05 68.82 L265.86 70.70 L267.67 72.57 L269.48 74.44 L271.28 76.32 L273.09 78.20 L274.90 80.08 L276.70 81.96 L278.51 83.85 L280.32 85.73 L282.13 87.62 L283.94 89.50 L285.74 91.39 L287.55 93.28 L289.36 95.17 L291.17 97.06 L292.97 98.95 L294.78 100.84 L296.59 102.72 L298.39 104.61 L300.20 106.50 L302.01 108.39 L303.82 110.28 L305.62 112.17 L307.43 114.05 L309.24 115.94 L311.05 117.82 L312.86 119.71 L314.66 121.59 L316.47 123.47 L318.28 125.35 L320.09 127.22 L321.89 129.10 L323.70 130.97 L325.51 132.84 L327.31 134.71 L329.12 136.57 L330.93 138.44 L332.74 140.30 L334.55 142.16 L336.35 144.01 L338.16 145.86 L339.97 147.71 L341.77 149.56 L343.58 151.40 L345.39 153.24 L347.20 155.07 L349.00 156.90 L350.81 158.73 L352.62 160.55 L354.43 162.37 L356.24 164.18 L358.04 166.00 L359.85 167.80 L361.66 169.60 L363.46 171.40 L365.27 173.19 L367.08 174.98 L368.89 176.76 L370.69 178.54 L372.50 180.31 L374.31 182.08 L376.12 183.84 L377.93 185.60 L379.73 187.35 L381.54 189.10 L383.35 190.84 L385.15 192.57 L386.96 194.30 L388.77 196.03 L390.58 197.75 L392.38 199.46 L394.19 201.17 L396.00 202.87 L397.81 204.57 L399.62 206.26 L401.42 207.95 L403.23 209.63 L405.04 211.31 L406.85 212.98 L408.65 214.64 L410.46 216.30 L412.27 217.96 L414.08 219.61 L415.88 221.25 L417.69 222.89 L419.50 224.53 L421.31 226.16 L423.11 227.78 L424.92 229.40" stroke="#FF9000" stroke-width="2.5" fill="none" stroke-linejoin="round" stroke-dasharray="1.8 2.1"/>
<path d="M222.48 30.82 L224.29 32.60 L226.09 34.38 L227.90 36.17 L229.71 37.96 L231.52 39.75 L233.33 41.55 L235.13 43.35 L236.94 45.15 L238.75 46.96 L240.56 48.77 L242.36 50.58 L244.17 52.40 L245.98 54.22 L247.78 56.04 L249.59 57.87 L251.40 59.70 L253.21 61.53 L255.02 63.37 L256.82 65.21 L258.63 67.05 L260.44 68.89 L262.25 70.74 L264.05 72.60 L265.86 74.45 L267.67 76.31 L269.48 78.18 L271.28 80.04 L273.09 81.91 L274.90 83.78 L276.70 85.66 L278.51 87.54 L280.32 89.42 L282.13 91.31 L283.94 93.19 L285.74 95.09 L287.55 96.98 L289.36 98.88 L291.17 100.78 L292.97 102.68 L294.78 104.59 L296.59 106.50 L298.39 108.41 L300.20 110.33 L302.01 112.25 L303.82 114.17 L305.62 116.10 L307.43 118.02 L309.24 119.96 L311.05 121.89 L312.86 123.83 L314.66 125.77 L316.47 127.71 L318.28 129.65 L320.09 131.60 L321.89 133.55 L323.70 135.51 L325.51 137.46 L327.31 139.42 L329.12 141.39 L330.93 143.35 L332.74 145.32 L334.55 147.29 L336.35 149.26 L338.16 151.24 L339.97 153.21 L341.77 155.19 L343.58 157.18 L345.39 159.16 L347.20 161.15 L349.00 163.14 L350.81 165.13 L352.62 167.13 L354.43 169.12 L356.24 171.12 L358.04 173.12 L359.85 175.13 L361.66 177.13 L363.46 179.14 L365.27 181.14 L367.08 183.15 L368.89 185.16 L370.69 187.17 L372.50 189.18 L374.31 191.19 L376.12 193.21 L377.93 195.22 L379.73 197.23 L381.54 199.25 L383.35 201.26 L385.15 203.27 L386.96 205.28 L388.77 207.29 L390.58 209.30 L392.38 211.30 L394.19 213.31 L396.00 215.31 L397.81 217.31 L399.62 219.30 L401.42 221.29 L403.23 223.28 L405.04 225.26 L406.85 227.24 L408.65 229.22 L410.46 231.19 L412.27 233.15 L414.08 235.11 L415.88 237.06 L417.69 239.01 L419.50 240.94 L421.31 242.87 L423.11 244.80 L424.92 246.71" stroke="#9030E8" stroke-width="2.8" fill="none" stroke-linejoin="round" stroke-dasharray="8.2 7.8"/>
<path d="M222.48 83.80 L224.29 85.62 L226.09 87.44 L227.90 89.26 L229.71 91.09 L231.52 92.91 L233.33 94.75 L235.13 96.58 L236.94 98.42 L238.75 100.26 L240.56 102.10 L242.36 103.94 L244.17 105.79 L245.98 107.64 L247.78 109.50 L249.59 111.35 L251.40 113.21 L253.21 115.07 L255.02 116.94 L256.82 118.81 L258.63 120.68 L260.44 122.55 L262.25 124.43 L264.05 126.30 L265.86 128.18 L267.67 130.07 L269.48 131.95 L271.28 133.84 L273.09 135.73 L274.90 137.63 L276.70 139.52 L278.51 141.42 L280.32 143.32 L282.13 145.23 L283.94 147.13 L285.74 149.04 L287.55 150.95 L289.36 152.86 L291.17 154.77 L292.97 156.69 L294.78 158.61 L296.59 160.53 L298.39 162.45 L300.20 164.37 L302.01 166.30 L303.82 168.22 L305.62 170.15 L307.43 172.08 L309.24 174.01 L311.05 175.95 L312.86 177.88 L314.66 179.82 L316.47 181.76 L318.28 183.69 L320.09 185.63 L321.89 187.57 L323.70 189.52 L325.51 191.46 L327.31 193.40 L329.12 195.34 L330.93 197.28 L332.74 199.22 L334.55 201.16 L336.35 203.10 L338.16 205.04 L339.97 206.98 L341.77 208.91 L343.58 210.84 L345.39 212.77 L347.20 214.70 L349.00 216.62 L350.81 218.54 L352.62 220.46 L354.43 222.37 L356.24 224.28 L358.04 226.18 L359.85 228.07 L361.66 229.96 L363.46 231.84 L365.27 233.72 L367.08 235.59 L368.89 237.46 L370.69 239.31 L372.50 241.16 L374.31 243.00 L376.12 244.83 L377.93 246.65 L379.73 248.46 L381.54 250.26 L383.35 252.06 L385.15 253.84 L386.96 255.61 L388.77 257.37 L390.58 259.12 L392.38 260.86 L394.19 262.59 L396.00 264.31 L397.81 266.02 L399.62 267.71 L401.42 269.40 L403.23 271.07 L405.04 272.73 L406.85 274.38 L408.65 276.02 L410.46 277.65 L412.27 279.27 L414.08 280.88 L415.88 282.48 L417.69 284.08 L419.50 285.66 L421.31 287.23 L423.11 288.80 L424.92 290.36" stroke="#FF1010" stroke-width="3.0" fill="none" stroke-linejoin="round"/>
<path d="M222.48 57.96 L224.29 59.92 L226.09 61.88 L227.90 63.85 L229.71 65.82 L231.52 67.79 L233.33 69.77 L235.13 71.74 L236.94 73.73 L238.75 75.71 L240.56 77.70 L242.36 79.69 L244.17 81.69 L245.98 83.69 L247.78 85.69 L249.59 87.69 L251.40 89.70 L253.21 91.71 L255.02 93.72 L256.82 95.74 L258.63 97.76 L260.44 99.78 L262.25 101.80 L264.05 103.83 L265.86 105.86 L267.67 107.89 L269.48 109.92 L271.28 111.96 L273.09 114.00 L274.90 116.03 L276.70 118.08 L278.51 120.12 L280.32 122.16 L282.13 124.21 L283.94 126.26 L285.74 128.30 L287.55 130.35 L289.36 132.40 L291.17 134.46 L292.97 136.51 L294.78 138.56 L296.59 140.61 L298.39 142.67 L300.20 144.72 L302.01 146.77 L303.82 148.83 L305.62 150.88 L307.43 152.93 L309.24 154.99 L311.05 157.04 L312.86 159.09 L314.66 161.14 L316.47 163.19 L318.28 165.24 L320.09 167.28 L321.89 169.33 L323.70 171.37 L325.51 173.41 L327.31 175.45 L329.12 177.49 L330.93 179.52 L332.74 181.55 L334.55 183.58 L336.35 185.60 L338.16 187.62 L339.97 189.64 L341.77 191.65 L343.58 193.66 L345.39 195.67 L347.20 197.66 L349.00 199.66 L350.81 201.64 L352.62 203.62 L354.43 205.60 L356.24 207.57 L358.04 209.53 L359.85 211.48 L361.66 213.43 L363.46 215.36 L365.27 217.29 L367.08 219.21 L368.89 221.13 L370.69 223.03 L372.50 224.92 L374.31 226.80 L376.12 228.67 L377.93 230.53 L379.73 232.39 L381.54 234.22 L383.35 236.05 L385.15 237.87 L386.96 239.67 L388.77 241.46 L390.58 243.24 L392.38 245.01 L394.19 246.76 L396.00 248.51 L397.81 250.23 L399.62 251.95 L401.42 253.65 L403.23 255.34 L405.04 257.02 L406.85 258.68 L408.65 260.33 L410.46 261.97 L412.27 263.59 L414.08 265.20 L415.88 266.80 L417.69 268.38 L419.50 269.95 L421.31 271.51 L423.11 273.06 L424.92 274.59" stroke="#FF7D42" stroke-width="2.8" fill="none" stroke-linejoin="round" stroke-dasharray="8.2 7.8"/>
<path d="M222.48 32.01 L224.29 33.95 L226.09 35.90 L227.90 37.84 L229.71 39.79 L231.52 41.74 L233.33 43.69 L235.13 45.65 L236.94 47.60 L238.75 49.56 L240.56 51.52 L242.36 53.47 L244.17 55.44 L245.98 57.40 L247.78 59.36 L249.59 61.32 L251.40 63.29 L253.21 65.25 L255.02 67.22 L256.82 69.19 L258.63 71.16 L260.44 73.12 L262.25 75.09 L264.05 77.06 L265.86 79.03 L267.67 81.00 L269.48 82.97 L271.28 84.95 L273.09 86.92 L274.90 88.89 L276.70 90.86 L278.51 92.83 L280.32 94.79 L282.13 96.76 L283.94 98.73 L285.74 100.70 L287.55 102.66 L289.36 104.63 L291.17 106.59 L292.97 108.55 L294.78 110.51 L296.59 112.47 L298.39 114.43 L300.20 116.38 L302.01 118.33 L303.82 120.28 L305.62 122.23 L307.43 124.18 L309.24 126.12 L311.05 128.06 L312.86 130.00 L314.66 131.93 L316.47 133.87 L318.28 135.79 L320.09 137.72 L321.89 139.64 L323.70 141.56 L325.51 143.47 L327.31 145.38 L329.12 147.29 L330.93 149.19 L332.74 151.09 L334.55 152.98 L336.35 154.87 L338.16 156.75 L339.97 158.63 L341.77 160.50 L343.58 162.37 L345.39 164.24 L347.20 166.10 L349.00 167.95 L350.81 169.80 L352.62 171.64 L354.43 173.48 L356.24 175.31 L358.04 177.13 L359.85 178.95 L361.66 180.76 L363.46 182.57 L365.27 184.37 L367.08 186.17 L368.89 187.96 L370.69 189.74 L372.50 191.51 L374.31 193.29 L376.12 195.05 L377.93 196.81 L379.73 198.56 L381.54 200.30 L383.35 202.04 L385.15 203.77 L386.96 205.50 L388.77 207.22 L390.58 208.93 L392.38 210.63 L394.19 212.34 L396.00 214.03 L397.81 215.72 L399.62 217.40 L401.42 219.07 L403.23 220.74 L405.04 222.41 L406.85 224.06 L408.65 225.72 L410.46 227.36 L412.27 229.00 L414.08 230.64 L415.88 232.27 L417.69 233.89 L419.50 235.51 L421.31 237.12 L423.11 238.72 L424.92 240.32" stroke="#7E1650" stroke-width="2.8" fill="none" stroke-linejoin="round" stroke-dasharray="8.2 7.8"/>
<path d="M222.48 10.38 L224.29 12.29 L226.09 14.19 L227.90 16.09 L229.71 17.98 L231.52 19.86 L233.33 21.74 L235.13 23.61 L236.94 25.47 L238.75 27.33 L240.56 29.18 L242.36 31.02 L244.17 32.85 L245.98 34.68 L247.78 36.51 L249.59 38.32 L251.40 40.13 L253.21 41.94 L255.02 43.74 L256.82 45.53 L258.63 47.32 L260.44 49.11 L262.25 50.89 L264.05 52.67 L265.86 54.44 L267.67 56.21 L269.48 57.98 L271.28 59.75 L273.09 61.52 L274.90 63.28 L276.70 65.05 L278.51 66.81 L280.32 68.57 L282.13 70.34 L283.94 72.10 L285.74 73.86 L287.55 75.63 L289.36 77.39 L291.17 79.16 L292.97 80.93 L294.78 82.69 L296.59 84.46 L298.39 86.23 L300.20 88.01 L302.01 89.78 L303.82 91.55 L305.62 93.32 L307.43 95.10 L309.24 96.87 L311.05 98.65 L312.86 100.42 L314.66 102.20 L316.47 103.98 L318.28 105.75 L320.09 107.53 L321.89 109.30 L323.70 111.07 L325.51 112.85 L327.31 114.62 L329.12 116.39 L330.93 118.16 L332.74 119.92 L334.55 121.69 L336.35 123.45 L338.16 125.21 L339.97 126.97 L341.77 128.72 L343.58 130.48 L345.39 132.22 L347.20 133.97 L349.00 135.71 L350.81 137.45 L352.62 139.18 L354.43 140.91 L356.24 142.63 L358.04 144.35 L359.85 146.07 L361.66 147.78 L363.46 149.48 L365.27 151.18 L367.08 152.87 L368.89 154.56 L370.69 156.24 L372.50 157.91 L374.31 159.58 L376.12 161.24 L377.93 162.90 L379.73 164.55 L381.54 166.19 L383.35 167.82 L385.15 169.44 L386.96 171.06 L388.77 172.67 L390.58 174.27 L392.38 175.86 L394.19 177.45 L396.00 179.02 L397.81 180.59 L399.62 182.15 L401.42 183.70 L403.23 185.24 L405.04 186.77 L406.85 188.29 L408.65 189.80 L410.46 191.31 L412.27 192.80 L414.08 194.29 L415.88 195.76 L417.69 197.22 L419.50 198.68 L421.31 200.12 L423.11 201.56 L424.92 202.98" stroke="#22CC22" stroke-width="2.8" fill="none" stroke-linejoin="round" stroke-dasharray="8.2 7.8"/>
<path d="M222.48 -12.86 L224.29 -11.06 L226.09 -9.24 L227.90 -7.43 L229.71 -5.62 L231.52 -3.80 L233.33 -1.98 L235.13 -0.15 L236.94 1.67 L238.75 3.50 L240.56 5.33 L242.36 7.17 L244.17 9.01 L245.98 10.85 L247.78 12.69 L249.59 14.54 L251.40 16.39 L253.21 18.25 L255.02 20.10 L256.82 21.97 L258.63 23.83 L260.44 25.70 L262.25 27.57 L264.05 29.45 L265.86 31.32 L267.67 33.20 L269.48 35.09 L271.28 36.98 L273.09 38.86 L274.90 40.76 L276.70 42.65 L278.51 44.55 L280.32 46.45 L282.13 48.35 L283.94 50.26 L285.74 52.16 L287.55 54.07 L289.36 55.98 L291.17 57.89 L292.97 59.80 L294.78 61.72 L296.59 63.64 L298.39 65.55 L300.20 67.47 L302.01 69.39 L303.82 71.31 L305.62 73.23 L307.43 75.15 L309.24 77.07 L311.05 79.00 L312.86 80.92 L314.66 82.84 L316.47 84.77 L318.28 86.69 L320.09 88.61 L321.89 90.54 L323.70 92.46 L325.51 94.38 L327.31 96.31 L329.12 98.23 L330.93 100.15 L332.74 102.07 L334.55 104.00 L336.35 105.92 L338.16 107.84 L339.97 109.76 L341.77 111.68 L343.58 113.59 L345.39 115.51 L347.20 117.43 L349.00 119.34 L350.81 121.26 L352.62 123.17 L354.43 125.08 L356.24 127.00 L358.04 128.91 L359.85 130.81 L361.66 132.72 L363.46 134.63 L365.27 136.53 L367.08 138.43 L368.89 140.33 L370.69 142.23 L372.50 144.13 L374.31 146.02 L376.12 147.92 L377.93 149.81 L379.73 151.70 L381.54 153.59 L383.35 155.47 L385.15 157.35 L386.96 159.23 L388.77 161.11 L390.58 162.98 L392.38 164.86 L394.19 166.73 L396.00 168.59 L397.81 170.46 L399.62 172.32 L401.42 174.18 L403.23 176.03 L405.04 177.88 L406.85 179.73 L408.65 181.57 L410.46 183.42 L412.27 185.25 L414.08 187.09 L415.88 188.92 L417.69 190.74 L419.50 192.56 L421.31 194.38 L423.11 196.19 L424.92 198.00" stroke="#3A30DC" stroke-width="2.5" fill="none" stroke-linejoin="round" stroke-dasharray="1.8 2.1"/>
<path d="M222.48 -27.79 L224.29 -25.93 L226.09 -24.08 L227.90 -22.22 L229.71 -20.36 L231.52 -18.50 L233.33 -16.63 L235.13 -14.76 L236.94 -12.89 L238.75 -11.01 L240.56 -9.13 L242.36 -7.25 L244.17 -5.36 L245.98 -3.47 L247.78 -1.57 L249.59 0.33 L251.40 2.24 L253.21 4.15 L255.02 6.06 L256.82 7.98 L258.63 9.90 L260.44 11.82 L262.25 13.75 L264.05 15.69 L265.86 17.62 L267.67 19.57 L269.48 21.51 L271.28 23.46 L273.09 25.41 L274.90 27.36 L276.70 29.32 L278.51 31.28 L280.32 33.24 L282.13 35.20 L283.94 37.17 L285.74 39.14 L287.55 41.11 L289.36 43.08 L291.17 45.05 L292.97 47.02 L294.78 49.00 L296.59 50.97 L298.39 52.95 L300.20 54.92 L302.01 56.90 L303.82 58.87 L305.62 60.85 L307.43 62.83 L309.24 64.81 L311.05 66.78 L312.86 68.76 L314.66 70.73 L316.47 72.71 L318.28 74.69 L320.09 76.66 L321.89 78.63 L323.70 80.61 L325.51 82.58 L327.31 84.56 L329.12 86.53 L330.93 88.50 L332.74 90.48 L334.55 92.45 L336.35 94.42 L338.16 96.39 L339.97 98.37 L341.77 100.34 L343.58 102.31 L345.39 104.28 L347.20 106.26 L349.00 108.23 L350.81 110.20 L352.62 112.18 L354.43 114.15 L356.24 116.13 L358.04 118.10 L359.85 120.08 L361.66 122.06 L363.46 124.04 L365.27 126.02 L367.08 128.00 L368.89 129.98 L370.69 131.96 L372.50 133.95 L374.31 135.93 L376.12 137.92 L377.93 139.91 L379.73 141.90 L381.54 143.89 L383.35 145.88 L385.15 147.88 L386.96 149.87 L388.77 151.87 L390.58 153.87 L392.38 155.87 L394.19 157.87 L396.00 159.88 L397.81 161.88 L399.62 163.89 L401.42 165.90 L403.23 167.91 L405.04 169.92 L406.85 171.94 L408.65 173.95 L410.46 175.97 L412.27 177.99 L414.08 180.00 L415.88 182.02 L417.69 184.04 L419.50 186.06 L421.31 188.09 L423.11 190.11 L424.92 192.13" stroke="#D0661A" stroke-width="2.8" fill="none" stroke-linejoin="round" stroke-dasharray="8.2 7.8"/>
<path d="M222.48 -1.94 L224.29 -0.08 L226.09 1.78 L227.90 3.63 L229.71 5.49 L231.52 7.34 L233.33 9.20 L235.13 11.05 L236.94 12.90 L238.75 14.76 L240.56 16.61 L242.36 18.46 L244.17 20.31 L245.98 22.15 L247.78 24.00 L249.59 25.85 L251.40 27.70 L253.21 29.54 L255.02 31.39 L256.82 33.23 L258.63 35.08 L260.44 36.93 L262.25 38.77 L264.05 40.62 L265.86 42.46 L267.67 44.31 L269.48 46.16 L271.28 48.01 L273.09 49.86 L274.90 51.70 L276.70 53.56 L278.51 55.41 L280.32 57.26 L282.13 59.11 L283.94 60.97 L285.74 62.82 L287.55 64.68 L289.36 66.53 L291.17 68.39 L292.97 70.25 L294.78 72.11 L296.59 73.97 L298.39 75.84 L300.20 77.70 L302.01 79.56 L303.82 81.43 L305.62 83.29 L307.43 85.16 L309.24 87.02 L311.05 88.89 L312.86 90.75 L314.66 92.62 L316.47 94.48 L318.28 96.34 L320.09 98.21 L321.89 100.07 L323.70 101.93 L325.51 103.79 L327.31 105.65 L329.12 107.51 L330.93 109.36 L332.74 111.21 L334.55 113.07 L336.35 114.91 L338.16 116.76 L339.97 118.60 L341.77 120.44 L343.58 122.28 L345.39 124.12 L347.20 125.95 L349.00 127.77 L350.81 129.60 L352.62 131.41 L354.43 133.23 L356.24 135.04 L358.04 136.84 L359.85 138.65 L361.66 140.44 L363.46 142.23 L365.27 144.02 L367.08 145.80 L368.89 147.57 L370.69 149.34 L372.50 151.10 L374.31 152.86 L376.12 154.61 L377.93 156.35 L379.73 158.09 L381.54 159.82 L383.35 161.54 L385.15 163.26 L386.96 164.97 L388.77 166.67 L390.58 168.37 L392.38 170.05 L394.19 171.73 L396.00 173.41 L397.81 175.08 L399.62 176.73 L401.42 178.39 L403.23 180.03 L405.04 181.67 L406.85 183.30 L408.65 184.92 L410.46 186.54 L412.27 188.15 L414.08 189.75 L415.88 191.35 L417.69 192.94 L419.50 194.52 L421.31 196.09 L423.11 197.66 L424.92 199.23" stroke="#F0843F" stroke-width="3.0" fill="none" stroke-linejoin="round"/>
<path d="M222.48 -22.59 L224.29 -20.83 L226.09 -19.06 L227.90 -17.28 L229.71 -15.50 L231.52 -13.71 L233.33 -11.92 L235.13 -10.12 L236.94 -8.31 L238.75 -6.50 L240.56 -4.68 L242.36 -2.85 L244.17 -1.02 L245.98 0.82 L247.78 2.67 L249.59 4.53 L251.40 6.39 L253.21 8.26 L255.02 10.14 L256.82 12.03 L258.63 13.92 L260.44 15.82 L262.25 17.73 L264.05 19.64 L265.86 21.56 L267.67 23.49 L269.48 25.42 L271.28 27.36 L273.09 29.30 L274.90 31.25 L276.70 33.20 L278.51 35.16 L280.32 37.12 L282.13 39.08 L283.94 41.05 L285.74 43.02 L287.55 45.00 L289.36 46.97 L291.17 48.95 L292.97 50.93 L294.78 52.91 L296.59 54.90 L298.39 56.88 L300.20 58.87 L302.01 60.85 L303.82 62.84 L305.62 64.82 L307.43 66.81 L309.24 68.79 L311.05 70.78 L312.86 72.76 L314.66 74.74 L316.47 76.73 L318.28 78.71 L320.09 80.69 L321.89 82.67 L323.70 84.65 L325.51 86.63 L327.31 88.61 L329.12 90.58 L330.93 92.56 L332.74 94.54 L334.55 96.51 L336.35 98.49 L338.16 100.46 L339.97 102.43 L341.77 104.40 L343.58 106.38 L345.39 108.35 L347.20 110.32 L349.00 112.29 L350.81 114.26 L352.62 116.24 L354.43 118.21 L356.24 120.18 L358.04 122.15 L359.85 124.12 L361.66 126.09 L363.46 128.07 L365.27 130.04 L367.08 132.02 L368.89 133.99 L370.69 135.97 L372.50 137.94 L374.31 139.92 L376.12 141.90 L377.93 143.88 L379.73 145.86 L381.54 147.84 L383.35 149.82 L385.15 151.81 L386.96 153.79 L388.77 155.78 L390.58 157.77 L392.38 159.76 L394.19 161.75 L396.00 163.74 L397.81 165.74 L399.62 167.73 L401.42 169.73 L403.23 171.72 L405.04 173.72 L406.85 175.72 L408.65 177.73 L410.46 179.73 L412.27 181.73 L414.08 183.74 L415.88 185.74 L417.69 187.75 L419.50 189.76 L421.31 191.77 L423.11 193.78 L424.92 195.79" stroke="#8A30FF" stroke-width="3.0" fill="none" stroke-linejoin="round"/>
</g>
<text class="tk" x="244.2" y="68.0" text-anchor="end">-260</text>
<text class="tk" x="244.2" y="93.7" text-anchor="end">-280</text>
<text class="tk" x="244.2" y="119.4" text-anchor="end">-300</text>
<text class="tk" x="244.2" y="145.1" text-anchor="end">-320</text>
<text class="tk" x="244.2" y="170.8" text-anchor="end">-340</text>
<text class="tk" x="244.2" y="196.5" text-anchor="end">-360</text>
<text class="tk" x="251.4" y="211.5" text-anchor="middle">65</text>
<text class="tk" x="323.7" y="211.5" text-anchor="middle">70</text>
<text class="tk" x="396.0" y="211.5" text-anchor="middle">75</text>
<text class="tt" x="304.7" y="26.3" text-anchor="middle" textLength="296" lengthAdjust="spacingAndGlyphs">X-direction displacement curve</text>
<text class="lb" x="222" y="423.6">Number of <tspan x="310.8" textLength="73.4" lengthAdjust="spacingAndGlyphs">iterations</tspan></text>
<text class="lb" transform="translate(24 188.7) rotate(-90)" text-anchor="middle" textLength="256" lengthAdjust="spacingAndGlyphs">X-direction moving distance (m)</text>
<rect x="437.5" y="76.6" width="103.89999999999998" height="270.4" fill="#fff" stroke="#111" stroke-width="1.15"/>
<path d="M441.0 88.8 H482.0" stroke="#9E5E18" stroke-width="2.6" fill="none" stroke-linejoin="round" stroke-dasharray="6.9 6.2"/>
<text class="lg" x="490" y="96.6">UAV 1</text>
<path d="M441.0 109.7 H482.0" stroke="#2F5FBA" stroke-width="2.6" fill="none" stroke-linejoin="round" stroke-dasharray="6.9 6.2"/>
<text class="lg" x="490" y="116.5">UAV 2</text>
<path d="M441.0 129.8 H482.0" stroke="#1E8C1E" stroke-width="2.6" fill="none" stroke-linejoin="round" stroke-dasharray="6.9 6.2"/>
<text class="lg" x="490" y="138.4">UAV 3</text>
<path d="M441.0 150.3 H482.0" stroke="#FF9000" stroke-width="2.7" fill="none" stroke-linejoin="round" stroke-dasharray="1.8 1.5"/>
<text class="lg" x="490" y="158.0">UAV 4</text>
<path d="M441.0 171.0 H482.0" stroke="#9030E8" stroke-width="2.6" fill="none" stroke-linejoin="round" stroke-dasharray="6.9 6.2"/>
<text class="lg" x="490" y="177.2">UAV 5</text>
<path d="M441.8 191.4 H481.7" stroke="#FF1010" stroke-width="2.9" fill="none" stroke-linejoin="round" stroke-linecap="round"/>
<text class="lg" x="490" y="197.2">UAV 6</text>
<path d="M441.0 212.4 H482.0" stroke="#FF7D42" stroke-width="2.6" fill="none" stroke-linejoin="round" stroke-dasharray="6.9 6.2"/>
<text class="lg" x="490" y="218.7">UAV 7</text>
<path d="M441.0 232.9 H482.0" stroke="#7E1650" stroke-width="2.6" fill="none" stroke-linejoin="round" stroke-dasharray="6.9 6.2"/>
<text class="lg" x="490" y="240.5">UAV 8</text>
<path d="M441.0 253.4 H482.0" stroke="#22CC22" stroke-width="2.6" fill="none" stroke-linejoin="round" stroke-dasharray="6.9 6.2"/>
<text class="lg" x="490" y="260.4">UAV 9</text>
<path d="M441.0 274.0 H482.0" stroke="#3A30DC" stroke-width="2.7" fill="none" stroke-linejoin="round" stroke-dasharray="1.8 1.5"/>
<text class="lg" x="490" y="279.4" textLength="48.6" lengthAdjust="spacing">UAV 10</text>
<path d="M441.0 294.3 H482.0" stroke="#D0661A" stroke-width="2.6" fill="none" stroke-linejoin="round" stroke-dasharray="6.9 6.2"/>
<text class="lg" x="490" y="299.4" textLength="48.6" lengthAdjust="spacing">UAV 11</text>
<path d="M441.8 314.5 H481.7" stroke="#F0843F" stroke-width="2.9" fill="none" stroke-linejoin="round" stroke-linecap="round"/>
<text class="lg" x="490" y="320.5" textLength="48.6" lengthAdjust="spacing">UAV 12</text>
<path d="M441.8 335.2 H481.7" stroke="#8A30FF" stroke-width="2.9" fill="none" stroke-linejoin="round" stroke-linecap="round"/>
<text class="lg" x="490" y="340.9" textLength="48.6" lengthAdjust="spacing">UAV 13</text>
</svg></body></html>
